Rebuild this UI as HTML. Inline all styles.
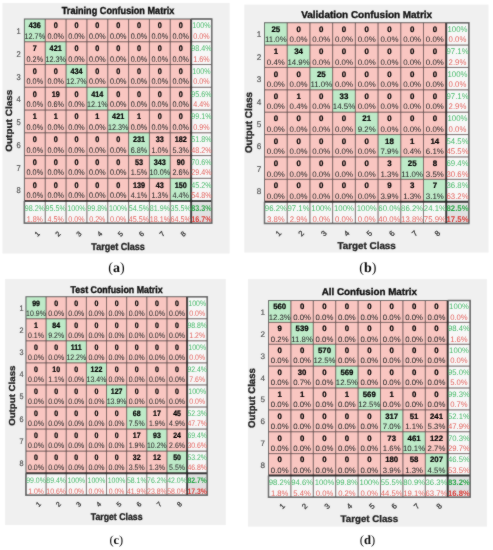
<!DOCTYPE html>
<html><head><meta charset="utf-8"><style>
html,body{margin:0;padding:0;background:#fff;}
svg{display:block;}
text{font-family:"Liberation Sans",Arial,sans-serif;text-anchor:middle;}
.cnt{font-weight:bold;fill:#000;stroke:#000;stroke-width:0.22px;}
.pct{fill:#2c2c2c;stroke:#2c2c2c;stroke-width:0.05px;}
.sg{fill:rgb(70,185,105);}
.sr{fill:rgb(228,100,95);}
.sgb{fill:rgb(40,165,70);font-weight:bold;}
.srb{fill:rgb(218,55,50);font-weight:bold;}
.ttl{font-weight:bold;fill:#111;stroke:#111;stroke-width:0.35px;}
.lab{font-weight:bold;fill:#222;stroke:#222;stroke-width:0.3px;}
.tick{fill:#585858;stroke:#585858;stroke-width:0.2px;}
.xtick{fill:#3c3c3c;stroke:#3c3c3c;stroke-width:0.3px;}
.cap{font-family:"Liberation Serif","Times New Roman",serif;fill:#111;}
</style></head><body>
<svg width="493" height="550" viewBox="0 0 493 550" text-rendering="geometricPrecision">
<defs><filter id="bl" x="0" y="0" width="493" height="550" filterUnits="userSpaceOnUse"><feConvolveMatrix order="3" kernelMatrix="1 2 1 2 20 2 1 2 1" divisor="32" edgeMode="duplicate"/></filter><filter id="bt" x="0" y="0" width="493" height="550" filterUnits="userSpaceOnUse"><feConvolveMatrix order="3" kernelMatrix="1 2 1 2 28 2 1 2 1" divisor="40" edgeMode="duplicate"/></filter></defs>
<g filter="url(#bl)">
<rect width="493" height="550" fill="#fff"/>
<rect x="2.5" y="3" width="227.1" height="250.5" fill="#f0f0f0"/>
<rect x="24.4" y="19" width="20.84" height="22.76" fill="rgb(190,234,200)"/>
<rect x="45.24" y="19" width="20.84" height="22.76" fill="rgb(249,198,193)"/>
<rect x="66.07" y="19" width="20.84" height="22.76" fill="rgb(249,198,193)"/>
<rect x="86.91" y="19" width="20.84" height="22.76" fill="rgb(249,198,193)"/>
<rect x="107.75" y="19" width="20.84" height="22.76" fill="rgb(249,198,193)"/>
<rect x="128.59" y="19" width="20.84" height="22.76" fill="rgb(249,198,193)"/>
<rect x="149.42" y="19" width="20.84" height="22.76" fill="rgb(249,198,193)"/>
<rect x="170.26" y="19" width="20.84" height="22.76" fill="rgb(249,198,193)"/>
<rect x="191.1" y="19" width="20.6" height="22.76" fill="rgb(247,247,247)"/>
<rect x="24.4" y="41.76" width="20.84" height="22.76" fill="rgb(249,198,193)"/>
<rect x="45.24" y="41.76" width="20.84" height="22.76" fill="rgb(190,234,200)"/>
<rect x="66.07" y="41.76" width="20.84" height="22.76" fill="rgb(249,198,193)"/>
<rect x="86.91" y="41.76" width="20.84" height="22.76" fill="rgb(249,198,193)"/>
<rect x="107.75" y="41.76" width="20.84" height="22.76" fill="rgb(249,198,193)"/>
<rect x="128.59" y="41.76" width="20.84" height="22.76" fill="rgb(249,198,193)"/>
<rect x="149.42" y="41.76" width="20.84" height="22.76" fill="rgb(249,198,193)"/>
<rect x="170.26" y="41.76" width="20.84" height="22.76" fill="rgb(249,198,193)"/>
<rect x="191.1" y="41.76" width="20.6" height="22.76" fill="rgb(247,247,247)"/>
<rect x="24.4" y="64.53" width="20.84" height="22.76" fill="rgb(249,198,193)"/>
<rect x="45.24" y="64.53" width="20.84" height="22.76" fill="rgb(249,198,193)"/>
<rect x="66.07" y="64.53" width="20.84" height="22.76" fill="rgb(190,234,200)"/>
<rect x="86.91" y="64.53" width="20.84" height="22.76" fill="rgb(249,198,193)"/>
<rect x="107.75" y="64.53" width="20.84" height="22.76" fill="rgb(249,198,193)"/>
<rect x="128.59" y="64.53" width="20.84" height="22.76" fill="rgb(249,198,193)"/>
<rect x="149.42" y="64.53" width="20.84" height="22.76" fill="rgb(249,198,193)"/>
<rect x="170.26" y="64.53" width="20.84" height="22.76" fill="rgb(249,198,193)"/>
<rect x="191.1" y="64.53" width="20.6" height="22.76" fill="rgb(247,247,247)"/>
<rect x="24.4" y="87.29" width="20.84" height="22.76" fill="rgb(249,198,193)"/>
<rect x="45.24" y="87.29" width="20.84" height="22.76" fill="rgb(249,198,193)"/>
<rect x="66.07" y="87.29" width="20.84" height="22.76" fill="rgb(249,198,193)"/>
<rect x="86.91" y="87.29" width="20.84" height="22.76" fill="rgb(190,234,200)"/>
<rect x="107.75" y="87.29" width="20.84" height="22.76" fill="rgb(249,198,193)"/>
<rect x="128.59" y="87.29" width="20.84" height="22.76" fill="rgb(249,198,193)"/>
<rect x="149.42" y="87.29" width="20.84" height="22.76" fill="rgb(249,198,193)"/>
<rect x="170.26" y="87.29" width="20.84" height="22.76" fill="rgb(249,198,193)"/>
<rect x="191.1" y="87.29" width="20.6" height="22.76" fill="rgb(247,247,247)"/>
<rect x="24.4" y="110.05" width="20.84" height="22.76" fill="rgb(249,198,193)"/>
<rect x="45.24" y="110.05" width="20.84" height="22.76" fill="rgb(249,198,193)"/>
<rect x="66.07" y="110.05" width="20.84" height="22.76" fill="rgb(249,198,193)"/>
<rect x="86.91" y="110.05" width="20.84" height="22.76" fill="rgb(249,198,193)"/>
<rect x="107.75" y="110.05" width="20.84" height="22.76" fill="rgb(190,234,200)"/>
<rect x="128.59" y="110.05" width="20.84" height="22.76" fill="rgb(249,198,193)"/>
<rect x="149.42" y="110.05" width="20.84" height="22.76" fill="rgb(249,198,193)"/>
<rect x="170.26" y="110.05" width="20.84" height="22.76" fill="rgb(249,198,193)"/>
<rect x="191.1" y="110.05" width="20.6" height="22.76" fill="rgb(247,247,247)"/>
<rect x="24.4" y="132.81" width="20.84" height="22.76" fill="rgb(249,198,193)"/>
<rect x="45.24" y="132.81" width="20.84" height="22.76" fill="rgb(249,198,193)"/>
<rect x="66.07" y="132.81" width="20.84" height="22.76" fill="rgb(249,198,193)"/>
<rect x="86.91" y="132.81" width="20.84" height="22.76" fill="rgb(249,198,193)"/>
<rect x="107.75" y="132.81" width="20.84" height="22.76" fill="rgb(249,198,193)"/>
<rect x="128.59" y="132.81" width="20.84" height="22.76" fill="rgb(190,234,200)"/>
<rect x="149.42" y="132.81" width="20.84" height="22.76" fill="rgb(249,198,193)"/>
<rect x="170.26" y="132.81" width="20.84" height="22.76" fill="rgb(249,198,193)"/>
<rect x="191.1" y="132.81" width="20.6" height="22.76" fill="rgb(247,247,247)"/>
<rect x="24.4" y="155.57" width="20.84" height="22.76" fill="rgb(249,198,193)"/>
<rect x="45.24" y="155.57" width="20.84" height="22.76" fill="rgb(249,198,193)"/>
<rect x="66.07" y="155.57" width="20.84" height="22.76" fill="rgb(249,198,193)"/>
<rect x="86.91" y="155.57" width="20.84" height="22.76" fill="rgb(249,198,193)"/>
<rect x="107.75" y="155.57" width="20.84" height="22.76" fill="rgb(249,198,193)"/>
<rect x="128.59" y="155.57" width="20.84" height="22.76" fill="rgb(249,198,193)"/>
<rect x="149.42" y="155.57" width="20.84" height="22.76" fill="rgb(190,234,200)"/>
<rect x="170.26" y="155.57" width="20.84" height="22.76" fill="rgb(249,198,193)"/>
<rect x="191.1" y="155.57" width="20.6" height="22.76" fill="rgb(247,247,247)"/>
<rect x="24.4" y="178.34" width="20.84" height="22.76" fill="rgb(249,198,193)"/>
<rect x="45.24" y="178.34" width="20.84" height="22.76" fill="rgb(249,198,193)"/>
<rect x="66.07" y="178.34" width="20.84" height="22.76" fill="rgb(249,198,193)"/>
<rect x="86.91" y="178.34" width="20.84" height="22.76" fill="rgb(249,198,193)"/>
<rect x="107.75" y="178.34" width="20.84" height="22.76" fill="rgb(249,198,193)"/>
<rect x="128.59" y="178.34" width="20.84" height="22.76" fill="rgb(249,198,193)"/>
<rect x="149.42" y="178.34" width="20.84" height="22.76" fill="rgb(249,198,193)"/>
<rect x="170.26" y="178.34" width="20.84" height="22.76" fill="rgb(190,234,200)"/>
<rect x="191.1" y="178.34" width="20.6" height="22.76" fill="rgb(247,247,247)"/>
<rect x="24.4" y="201.1" width="20.84" height="22.1" fill="rgb(247,247,247)"/>
<rect x="45.24" y="201.1" width="20.84" height="22.1" fill="rgb(247,247,247)"/>
<rect x="66.07" y="201.1" width="20.84" height="22.1" fill="rgb(247,247,247)"/>
<rect x="86.91" y="201.1" width="20.84" height="22.1" fill="rgb(247,247,247)"/>
<rect x="107.75" y="201.1" width="20.84" height="22.1" fill="rgb(247,247,247)"/>
<rect x="128.59" y="201.1" width="20.84" height="22.1" fill="rgb(247,247,247)"/>
<rect x="149.42" y="201.1" width="20.84" height="22.1" fill="rgb(247,247,247)"/>
<rect x="170.26" y="201.1" width="20.84" height="22.1" fill="rgb(247,247,247)"/>
<rect x="191.1" y="201.1" width="20.6" height="22.1" fill="rgb(225,225,226)"/>
<line x1="45.24" y1="19" x2="45.24" y2="223.2" stroke="#5a4848" stroke-width="0.9"/>
<line x1="24.4" y1="41.76" x2="211.7" y2="41.76" stroke="#5a4848" stroke-width="0.9"/>
<line x1="66.07" y1="19" x2="66.07" y2="223.2" stroke="#5a4848" stroke-width="0.9"/>
<line x1="24.4" y1="64.53" x2="211.7" y2="64.53" stroke="#5a4848" stroke-width="0.9"/>
<line x1="86.91" y1="19" x2="86.91" y2="223.2" stroke="#5a4848" stroke-width="0.9"/>
<line x1="24.4" y1="87.29" x2="211.7" y2="87.29" stroke="#5a4848" stroke-width="0.9"/>
<line x1="107.75" y1="19" x2="107.75" y2="223.2" stroke="#5a4848" stroke-width="0.9"/>
<line x1="24.4" y1="110.05" x2="211.7" y2="110.05" stroke="#5a4848" stroke-width="0.9"/>
<line x1="128.59" y1="19" x2="128.59" y2="223.2" stroke="#5a4848" stroke-width="0.9"/>
<line x1="24.4" y1="132.81" x2="211.7" y2="132.81" stroke="#5a4848" stroke-width="0.9"/>
<line x1="149.42" y1="19" x2="149.42" y2="223.2" stroke="#5a4848" stroke-width="0.9"/>
<line x1="24.4" y1="155.57" x2="211.7" y2="155.57" stroke="#5a4848" stroke-width="0.9"/>
<line x1="170.26" y1="19" x2="170.26" y2="223.2" stroke="#5a4848" stroke-width="0.9"/>
<line x1="24.4" y1="178.34" x2="211.7" y2="178.34" stroke="#5a4848" stroke-width="0.9"/>
<line x1="191.1" y1="19" x2="191.1" y2="223.2" stroke="#1a1a1a" stroke-width="2"/>
<line x1="24.4" y1="201.1" x2="211.7" y2="201.1" stroke="#1a1a1a" stroke-width="2"/>
<rect x="24.4" y="19" width="187.3" height="204.2" fill="none" stroke="#555" stroke-width="1"/>
<path d="M191.1,19 H211.7 V223.2 H24.4 V201.1" fill="none" stroke="#606060" stroke-width="1.5"/>
<rect x="244.3" y="4.6" width="244.2" height="247.9" fill="#f0f0f0"/>
<rect x="264.5" y="22.7" width="22.71" height="22.38" fill="rgb(190,234,200)"/>
<rect x="287.21" y="22.7" width="22.71" height="22.38" fill="rgb(249,198,193)"/>
<rect x="309.93" y="22.7" width="22.71" height="22.38" fill="rgb(249,198,193)"/>
<rect x="332.64" y="22.7" width="22.71" height="22.38" fill="rgb(249,198,193)"/>
<rect x="355.35" y="22.7" width="22.71" height="22.38" fill="rgb(249,198,193)"/>
<rect x="378.06" y="22.7" width="22.71" height="22.38" fill="rgb(249,198,193)"/>
<rect x="400.77" y="22.7" width="22.71" height="22.38" fill="rgb(249,198,193)"/>
<rect x="423.49" y="22.7" width="22.71" height="22.38" fill="rgb(249,198,193)"/>
<rect x="446.2" y="22.7" width="22.6" height="22.38" fill="rgb(247,247,247)"/>
<rect x="264.5" y="45.08" width="22.71" height="22.38" fill="rgb(249,198,193)"/>
<rect x="287.21" y="45.08" width="22.71" height="22.38" fill="rgb(190,234,200)"/>
<rect x="309.93" y="45.08" width="22.71" height="22.38" fill="rgb(249,198,193)"/>
<rect x="332.64" y="45.08" width="22.71" height="22.38" fill="rgb(249,198,193)"/>
<rect x="355.35" y="45.08" width="22.71" height="22.38" fill="rgb(249,198,193)"/>
<rect x="378.06" y="45.08" width="22.71" height="22.38" fill="rgb(249,198,193)"/>
<rect x="400.77" y="45.08" width="22.71" height="22.38" fill="rgb(249,198,193)"/>
<rect x="423.49" y="45.08" width="22.71" height="22.38" fill="rgb(249,198,193)"/>
<rect x="446.2" y="45.08" width="22.6" height="22.38" fill="rgb(247,247,247)"/>
<rect x="264.5" y="67.45" width="22.71" height="22.38" fill="rgb(249,198,193)"/>
<rect x="287.21" y="67.45" width="22.71" height="22.38" fill="rgb(249,198,193)"/>
<rect x="309.93" y="67.45" width="22.71" height="22.38" fill="rgb(190,234,200)"/>
<rect x="332.64" y="67.45" width="22.71" height="22.38" fill="rgb(249,198,193)"/>
<rect x="355.35" y="67.45" width="22.71" height="22.38" fill="rgb(249,198,193)"/>
<rect x="378.06" y="67.45" width="22.71" height="22.38" fill="rgb(249,198,193)"/>
<rect x="400.77" y="67.45" width="22.71" height="22.38" fill="rgb(249,198,193)"/>
<rect x="423.49" y="67.45" width="22.71" height="22.38" fill="rgb(249,198,193)"/>
<rect x="446.2" y="67.45" width="22.6" height="22.38" fill="rgb(247,247,247)"/>
<rect x="264.5" y="89.83" width="22.71" height="22.38" fill="rgb(249,198,193)"/>
<rect x="287.21" y="89.83" width="22.71" height="22.38" fill="rgb(249,198,193)"/>
<rect x="309.93" y="89.83" width="22.71" height="22.38" fill="rgb(249,198,193)"/>
<rect x="332.64" y="89.83" width="22.71" height="22.38" fill="rgb(190,234,200)"/>
<rect x="355.35" y="89.83" width="22.71" height="22.38" fill="rgb(249,198,193)"/>
<rect x="378.06" y="89.83" width="22.71" height="22.38" fill="rgb(249,198,193)"/>
<rect x="400.77" y="89.83" width="22.71" height="22.38" fill="rgb(249,198,193)"/>
<rect x="423.49" y="89.83" width="22.71" height="22.38" fill="rgb(249,198,193)"/>
<rect x="446.2" y="89.83" width="22.6" height="22.38" fill="rgb(247,247,247)"/>
<rect x="264.5" y="112.2" width="22.71" height="22.37" fill="rgb(249,198,193)"/>
<rect x="287.21" y="112.2" width="22.71" height="22.37" fill="rgb(249,198,193)"/>
<rect x="309.93" y="112.2" width="22.71" height="22.37" fill="rgb(249,198,193)"/>
<rect x="332.64" y="112.2" width="22.71" height="22.37" fill="rgb(249,198,193)"/>
<rect x="355.35" y="112.2" width="22.71" height="22.37" fill="rgb(190,234,200)"/>
<rect x="378.06" y="112.2" width="22.71" height="22.37" fill="rgb(249,198,193)"/>
<rect x="400.77" y="112.2" width="22.71" height="22.37" fill="rgb(249,198,193)"/>
<rect x="423.49" y="112.2" width="22.71" height="22.37" fill="rgb(249,198,193)"/>
<rect x="446.2" y="112.2" width="22.6" height="22.37" fill="rgb(247,247,247)"/>
<rect x="264.5" y="134.57" width="22.71" height="22.38" fill="rgb(249,198,193)"/>
<rect x="287.21" y="134.57" width="22.71" height="22.38" fill="rgb(249,198,193)"/>
<rect x="309.93" y="134.57" width="22.71" height="22.38" fill="rgb(249,198,193)"/>
<rect x="332.64" y="134.57" width="22.71" height="22.38" fill="rgb(249,198,193)"/>
<rect x="355.35" y="134.57" width="22.71" height="22.38" fill="rgb(249,198,193)"/>
<rect x="378.06" y="134.57" width="22.71" height="22.38" fill="rgb(190,234,200)"/>
<rect x="400.77" y="134.57" width="22.71" height="22.38" fill="rgb(249,198,193)"/>
<rect x="423.49" y="134.57" width="22.71" height="22.38" fill="rgb(249,198,193)"/>
<rect x="446.2" y="134.57" width="22.6" height="22.38" fill="rgb(247,247,247)"/>
<rect x="264.5" y="156.95" width="22.71" height="22.38" fill="rgb(249,198,193)"/>
<rect x="287.21" y="156.95" width="22.71" height="22.38" fill="rgb(249,198,193)"/>
<rect x="309.93" y="156.95" width="22.71" height="22.38" fill="rgb(249,198,193)"/>
<rect x="332.64" y="156.95" width="22.71" height="22.38" fill="rgb(249,198,193)"/>
<rect x="355.35" y="156.95" width="22.71" height="22.38" fill="rgb(249,198,193)"/>
<rect x="378.06" y="156.95" width="22.71" height="22.38" fill="rgb(249,198,193)"/>
<rect x="400.77" y="156.95" width="22.71" height="22.38" fill="rgb(190,234,200)"/>
<rect x="423.49" y="156.95" width="22.71" height="22.38" fill="rgb(249,198,193)"/>
<rect x="446.2" y="156.95" width="22.6" height="22.38" fill="rgb(247,247,247)"/>
<rect x="264.5" y="179.32" width="22.71" height="22.38" fill="rgb(249,198,193)"/>
<rect x="287.21" y="179.32" width="22.71" height="22.38" fill="rgb(249,198,193)"/>
<rect x="309.93" y="179.32" width="22.71" height="22.38" fill="rgb(249,198,193)"/>
<rect x="332.64" y="179.32" width="22.71" height="22.38" fill="rgb(249,198,193)"/>
<rect x="355.35" y="179.32" width="22.71" height="22.38" fill="rgb(249,198,193)"/>
<rect x="378.06" y="179.32" width="22.71" height="22.38" fill="rgb(249,198,193)"/>
<rect x="400.77" y="179.32" width="22.71" height="22.38" fill="rgb(249,198,193)"/>
<rect x="423.49" y="179.32" width="22.71" height="22.38" fill="rgb(190,234,200)"/>
<rect x="446.2" y="179.32" width="22.6" height="22.38" fill="rgb(247,247,247)"/>
<rect x="264.5" y="201.7" width="22.71" height="21.7" fill="rgb(247,247,247)"/>
<rect x="287.21" y="201.7" width="22.71" height="21.7" fill="rgb(247,247,247)"/>
<rect x="309.93" y="201.7" width="22.71" height="21.7" fill="rgb(247,247,247)"/>
<rect x="332.64" y="201.7" width="22.71" height="21.7" fill="rgb(247,247,247)"/>
<rect x="355.35" y="201.7" width="22.71" height="21.7" fill="rgb(247,247,247)"/>
<rect x="378.06" y="201.7" width="22.71" height="21.7" fill="rgb(247,247,247)"/>
<rect x="400.77" y="201.7" width="22.71" height="21.7" fill="rgb(247,247,247)"/>
<rect x="423.49" y="201.7" width="22.71" height="21.7" fill="rgb(247,247,247)"/>
<rect x="446.2" y="201.7" width="22.6" height="21.7" fill="rgb(225,225,226)"/>
<line x1="287.21" y1="22.7" x2="287.21" y2="223.4" stroke="#5a4848" stroke-width="0.9"/>
<line x1="264.5" y1="45.08" x2="468.8" y2="45.08" stroke="#5a4848" stroke-width="0.9"/>
<line x1="309.93" y1="22.7" x2="309.93" y2="223.4" stroke="#5a4848" stroke-width="0.9"/>
<line x1="264.5" y1="67.45" x2="468.8" y2="67.45" stroke="#5a4848" stroke-width="0.9"/>
<line x1="332.64" y1="22.7" x2="332.64" y2="223.4" stroke="#5a4848" stroke-width="0.9"/>
<line x1="264.5" y1="89.83" x2="468.8" y2="89.83" stroke="#5a4848" stroke-width="0.9"/>
<line x1="355.35" y1="22.7" x2="355.35" y2="223.4" stroke="#5a4848" stroke-width="0.9"/>
<line x1="264.5" y1="112.2" x2="468.8" y2="112.2" stroke="#5a4848" stroke-width="0.9"/>
<line x1="378.06" y1="22.7" x2="378.06" y2="223.4" stroke="#5a4848" stroke-width="0.9"/>
<line x1="264.5" y1="134.57" x2="468.8" y2="134.57" stroke="#5a4848" stroke-width="0.9"/>
<line x1="400.77" y1="22.7" x2="400.77" y2="223.4" stroke="#5a4848" stroke-width="0.9"/>
<line x1="264.5" y1="156.95" x2="468.8" y2="156.95" stroke="#5a4848" stroke-width="0.9"/>
<line x1="423.49" y1="22.7" x2="423.49" y2="223.4" stroke="#5a4848" stroke-width="0.9"/>
<line x1="264.5" y1="179.32" x2="468.8" y2="179.32" stroke="#5a4848" stroke-width="0.9"/>
<line x1="446.2" y1="22.7" x2="446.2" y2="223.4" stroke="#1a1a1a" stroke-width="2"/>
<line x1="264.5" y1="201.7" x2="468.8" y2="201.7" stroke="#1a1a1a" stroke-width="2"/>
<rect x="264.5" y="22.7" width="204.3" height="200.7" fill="none" stroke="#555" stroke-width="1"/>
<path d="M446.2,22.7 H468.8 V223.4 H264.5 V201.7" fill="none" stroke="#606060" stroke-width="1.5"/>
<rect x="5.1" y="279" width="220.7" height="246" fill="#f0f0f0"/>
<rect x="25.95" y="296.7" width="20.14" height="22.06" fill="rgb(190,234,200)"/>
<rect x="46.09" y="296.7" width="20.14" height="22.06" fill="rgb(249,198,193)"/>
<rect x="66.24" y="296.7" width="20.14" height="22.06" fill="rgb(249,198,193)"/>
<rect x="86.38" y="296.7" width="20.14" height="22.06" fill="rgb(249,198,193)"/>
<rect x="106.53" y="296.7" width="20.14" height="22.06" fill="rgb(249,198,193)"/>
<rect x="126.67" y="296.7" width="20.14" height="22.06" fill="rgb(249,198,193)"/>
<rect x="146.81" y="296.7" width="20.14" height="22.06" fill="rgb(249,198,193)"/>
<rect x="166.96" y="296.7" width="20.14" height="22.06" fill="rgb(249,198,193)"/>
<rect x="187.1" y="296.7" width="20.2" height="22.06" fill="rgb(247,247,247)"/>
<rect x="25.95" y="318.76" width="20.14" height="22.06" fill="rgb(249,198,193)"/>
<rect x="46.09" y="318.76" width="20.14" height="22.06" fill="rgb(190,234,200)"/>
<rect x="66.24" y="318.76" width="20.14" height="22.06" fill="rgb(249,198,193)"/>
<rect x="86.38" y="318.76" width="20.14" height="22.06" fill="rgb(249,198,193)"/>
<rect x="106.53" y="318.76" width="20.14" height="22.06" fill="rgb(249,198,193)"/>
<rect x="126.67" y="318.76" width="20.14" height="22.06" fill="rgb(249,198,193)"/>
<rect x="146.81" y="318.76" width="20.14" height="22.06" fill="rgb(249,198,193)"/>
<rect x="166.96" y="318.76" width="20.14" height="22.06" fill="rgb(249,198,193)"/>
<rect x="187.1" y="318.76" width="20.2" height="22.06" fill="rgb(247,247,247)"/>
<rect x="25.95" y="340.82" width="20.14" height="22.06" fill="rgb(249,198,193)"/>
<rect x="46.09" y="340.82" width="20.14" height="22.06" fill="rgb(249,198,193)"/>
<rect x="66.24" y="340.82" width="20.14" height="22.06" fill="rgb(190,234,200)"/>
<rect x="86.38" y="340.82" width="20.14" height="22.06" fill="rgb(249,198,193)"/>
<rect x="106.53" y="340.82" width="20.14" height="22.06" fill="rgb(249,198,193)"/>
<rect x="126.67" y="340.82" width="20.14" height="22.06" fill="rgb(249,198,193)"/>
<rect x="146.81" y="340.82" width="20.14" height="22.06" fill="rgb(249,198,193)"/>
<rect x="166.96" y="340.82" width="20.14" height="22.06" fill="rgb(249,198,193)"/>
<rect x="187.1" y="340.82" width="20.2" height="22.06" fill="rgb(247,247,247)"/>
<rect x="25.95" y="362.89" width="20.14" height="22.06" fill="rgb(249,198,193)"/>
<rect x="46.09" y="362.89" width="20.14" height="22.06" fill="rgb(249,198,193)"/>
<rect x="66.24" y="362.89" width="20.14" height="22.06" fill="rgb(249,198,193)"/>
<rect x="86.38" y="362.89" width="20.14" height="22.06" fill="rgb(190,234,200)"/>
<rect x="106.53" y="362.89" width="20.14" height="22.06" fill="rgb(249,198,193)"/>
<rect x="126.67" y="362.89" width="20.14" height="22.06" fill="rgb(249,198,193)"/>
<rect x="146.81" y="362.89" width="20.14" height="22.06" fill="rgb(249,198,193)"/>
<rect x="166.96" y="362.89" width="20.14" height="22.06" fill="rgb(249,198,193)"/>
<rect x="187.1" y="362.89" width="20.2" height="22.06" fill="rgb(247,247,247)"/>
<rect x="25.95" y="384.95" width="20.14" height="22.06" fill="rgb(249,198,193)"/>
<rect x="46.09" y="384.95" width="20.14" height="22.06" fill="rgb(249,198,193)"/>
<rect x="66.24" y="384.95" width="20.14" height="22.06" fill="rgb(249,198,193)"/>
<rect x="86.38" y="384.95" width="20.14" height="22.06" fill="rgb(249,198,193)"/>
<rect x="106.53" y="384.95" width="20.14" height="22.06" fill="rgb(190,234,200)"/>
<rect x="126.67" y="384.95" width="20.14" height="22.06" fill="rgb(249,198,193)"/>
<rect x="146.81" y="384.95" width="20.14" height="22.06" fill="rgb(249,198,193)"/>
<rect x="166.96" y="384.95" width="20.14" height="22.06" fill="rgb(249,198,193)"/>
<rect x="187.1" y="384.95" width="20.2" height="22.06" fill="rgb(247,247,247)"/>
<rect x="25.95" y="407.01" width="20.14" height="22.06" fill="rgb(249,198,193)"/>
<rect x="46.09" y="407.01" width="20.14" height="22.06" fill="rgb(249,198,193)"/>
<rect x="66.24" y="407.01" width="20.14" height="22.06" fill="rgb(249,198,193)"/>
<rect x="86.38" y="407.01" width="20.14" height="22.06" fill="rgb(249,198,193)"/>
<rect x="106.53" y="407.01" width="20.14" height="22.06" fill="rgb(249,198,193)"/>
<rect x="126.67" y="407.01" width="20.14" height="22.06" fill="rgb(190,234,200)"/>
<rect x="146.81" y="407.01" width="20.14" height="22.06" fill="rgb(249,198,193)"/>
<rect x="166.96" y="407.01" width="20.14" height="22.06" fill="rgb(249,198,193)"/>
<rect x="187.1" y="407.01" width="20.2" height="22.06" fill="rgb(247,247,247)"/>
<rect x="25.95" y="429.07" width="20.14" height="22.06" fill="rgb(249,198,193)"/>
<rect x="46.09" y="429.07" width="20.14" height="22.06" fill="rgb(249,198,193)"/>
<rect x="66.24" y="429.07" width="20.14" height="22.06" fill="rgb(249,198,193)"/>
<rect x="86.38" y="429.07" width="20.14" height="22.06" fill="rgb(249,198,193)"/>
<rect x="106.53" y="429.07" width="20.14" height="22.06" fill="rgb(249,198,193)"/>
<rect x="126.67" y="429.07" width="20.14" height="22.06" fill="rgb(249,198,193)"/>
<rect x="146.81" y="429.07" width="20.14" height="22.06" fill="rgb(190,234,200)"/>
<rect x="166.96" y="429.07" width="20.14" height="22.06" fill="rgb(249,198,193)"/>
<rect x="187.1" y="429.07" width="20.2" height="22.06" fill="rgb(247,247,247)"/>
<rect x="25.95" y="451.14" width="20.14" height="22.06" fill="rgb(249,198,193)"/>
<rect x="46.09" y="451.14" width="20.14" height="22.06" fill="rgb(249,198,193)"/>
<rect x="66.24" y="451.14" width="20.14" height="22.06" fill="rgb(249,198,193)"/>
<rect x="86.38" y="451.14" width="20.14" height="22.06" fill="rgb(249,198,193)"/>
<rect x="106.53" y="451.14" width="20.14" height="22.06" fill="rgb(249,198,193)"/>
<rect x="126.67" y="451.14" width="20.14" height="22.06" fill="rgb(249,198,193)"/>
<rect x="146.81" y="451.14" width="20.14" height="22.06" fill="rgb(249,198,193)"/>
<rect x="166.96" y="451.14" width="20.14" height="22.06" fill="rgb(190,234,200)"/>
<rect x="187.1" y="451.14" width="20.2" height="22.06" fill="rgb(247,247,247)"/>
<rect x="25.95" y="473.2" width="20.14" height="22" fill="rgb(247,247,247)"/>
<rect x="46.09" y="473.2" width="20.14" height="22" fill="rgb(247,247,247)"/>
<rect x="66.24" y="473.2" width="20.14" height="22" fill="rgb(247,247,247)"/>
<rect x="86.38" y="473.2" width="20.14" height="22" fill="rgb(247,247,247)"/>
<rect x="106.53" y="473.2" width="20.14" height="22" fill="rgb(247,247,247)"/>
<rect x="126.67" y="473.2" width="20.14" height="22" fill="rgb(247,247,247)"/>
<rect x="146.81" y="473.2" width="20.14" height="22" fill="rgb(247,247,247)"/>
<rect x="166.96" y="473.2" width="20.14" height="22" fill="rgb(247,247,247)"/>
<rect x="187.1" y="473.2" width="20.2" height="22" fill="rgb(225,225,226)"/>
<line x1="46.09" y1="296.7" x2="46.09" y2="495.2" stroke="#5a4848" stroke-width="0.9"/>
<line x1="25.95" y1="318.76" x2="207.3" y2="318.76" stroke="#5a4848" stroke-width="0.9"/>
<line x1="66.24" y1="296.7" x2="66.24" y2="495.2" stroke="#5a4848" stroke-width="0.9"/>
<line x1="25.95" y1="340.82" x2="207.3" y2="340.82" stroke="#5a4848" stroke-width="0.9"/>
<line x1="86.38" y1="296.7" x2="86.38" y2="495.2" stroke="#5a4848" stroke-width="0.9"/>
<line x1="25.95" y1="362.89" x2="207.3" y2="362.89" stroke="#5a4848" stroke-width="0.9"/>
<line x1="106.53" y1="296.7" x2="106.53" y2="495.2" stroke="#5a4848" stroke-width="0.9"/>
<line x1="25.95" y1="384.95" x2="207.3" y2="384.95" stroke="#5a4848" stroke-width="0.9"/>
<line x1="126.67" y1="296.7" x2="126.67" y2="495.2" stroke="#5a4848" stroke-width="0.9"/>
<line x1="25.95" y1="407.01" x2="207.3" y2="407.01" stroke="#5a4848" stroke-width="0.9"/>
<line x1="146.81" y1="296.7" x2="146.81" y2="495.2" stroke="#5a4848" stroke-width="0.9"/>
<line x1="25.95" y1="429.07" x2="207.3" y2="429.07" stroke="#5a4848" stroke-width="0.9"/>
<line x1="166.96" y1="296.7" x2="166.96" y2="495.2" stroke="#5a4848" stroke-width="0.9"/>
<line x1="25.95" y1="451.14" x2="207.3" y2="451.14" stroke="#5a4848" stroke-width="0.9"/>
<line x1="187.1" y1="296.7" x2="187.1" y2="495.2" stroke="#1a1a1a" stroke-width="2"/>
<line x1="25.95" y1="473.2" x2="207.3" y2="473.2" stroke="#1a1a1a" stroke-width="2"/>
<rect x="25.95" y="296.7" width="181.35" height="198.5" fill="none" stroke="#555" stroke-width="1"/>
<path d="M187.1,296.7 H207.3 V495.2 H25.95 V473.2" fill="none" stroke="#606060" stroke-width="1.5"/>
<rect x="248" y="279.1" width="238.9" height="247.5" fill="#f0f0f0"/>
<rect x="268.5" y="300.5" width="22.4" height="21.88" fill="rgb(190,234,200)"/>
<rect x="290.9" y="300.5" width="22.4" height="21.88" fill="rgb(249,198,193)"/>
<rect x="313.3" y="300.5" width="22.4" height="21.88" fill="rgb(249,198,193)"/>
<rect x="335.7" y="300.5" width="22.4" height="21.88" fill="rgb(249,198,193)"/>
<rect x="358.1" y="300.5" width="22.4" height="21.88" fill="rgb(249,198,193)"/>
<rect x="380.5" y="300.5" width="22.4" height="21.88" fill="rgb(249,198,193)"/>
<rect x="402.9" y="300.5" width="22.4" height="21.88" fill="rgb(249,198,193)"/>
<rect x="425.3" y="300.5" width="22.4" height="21.88" fill="rgb(249,198,193)"/>
<rect x="447.7" y="300.5" width="22.5" height="21.88" fill="rgb(247,247,247)"/>
<rect x="268.5" y="322.38" width="22.4" height="21.88" fill="rgb(249,198,193)"/>
<rect x="290.9" y="322.38" width="22.4" height="21.88" fill="rgb(190,234,200)"/>
<rect x="313.3" y="322.38" width="22.4" height="21.88" fill="rgb(249,198,193)"/>
<rect x="335.7" y="322.38" width="22.4" height="21.88" fill="rgb(249,198,193)"/>
<rect x="358.1" y="322.38" width="22.4" height="21.88" fill="rgb(249,198,193)"/>
<rect x="380.5" y="322.38" width="22.4" height="21.88" fill="rgb(249,198,193)"/>
<rect x="402.9" y="322.38" width="22.4" height="21.88" fill="rgb(249,198,193)"/>
<rect x="425.3" y="322.38" width="22.4" height="21.88" fill="rgb(249,198,193)"/>
<rect x="447.7" y="322.38" width="22.5" height="21.88" fill="rgb(247,247,247)"/>
<rect x="268.5" y="344.25" width="22.4" height="21.88" fill="rgb(249,198,193)"/>
<rect x="290.9" y="344.25" width="22.4" height="21.88" fill="rgb(249,198,193)"/>
<rect x="313.3" y="344.25" width="22.4" height="21.88" fill="rgb(190,234,200)"/>
<rect x="335.7" y="344.25" width="22.4" height="21.88" fill="rgb(249,198,193)"/>
<rect x="358.1" y="344.25" width="22.4" height="21.88" fill="rgb(249,198,193)"/>
<rect x="380.5" y="344.25" width="22.4" height="21.88" fill="rgb(249,198,193)"/>
<rect x="402.9" y="344.25" width="22.4" height="21.88" fill="rgb(249,198,193)"/>
<rect x="425.3" y="344.25" width="22.4" height="21.88" fill="rgb(249,198,193)"/>
<rect x="447.7" y="344.25" width="22.5" height="21.88" fill="rgb(247,247,247)"/>
<rect x="268.5" y="366.12" width="22.4" height="21.88" fill="rgb(249,198,193)"/>
<rect x="290.9" y="366.12" width="22.4" height="21.88" fill="rgb(249,198,193)"/>
<rect x="313.3" y="366.12" width="22.4" height="21.88" fill="rgb(249,198,193)"/>
<rect x="335.7" y="366.12" width="22.4" height="21.88" fill="rgb(190,234,200)"/>
<rect x="358.1" y="366.12" width="22.4" height="21.88" fill="rgb(249,198,193)"/>
<rect x="380.5" y="366.12" width="22.4" height="21.88" fill="rgb(249,198,193)"/>
<rect x="402.9" y="366.12" width="22.4" height="21.88" fill="rgb(249,198,193)"/>
<rect x="425.3" y="366.12" width="22.4" height="21.88" fill="rgb(249,198,193)"/>
<rect x="447.7" y="366.12" width="22.5" height="21.88" fill="rgb(247,247,247)"/>
<rect x="268.5" y="388" width="22.4" height="21.88" fill="rgb(249,198,193)"/>
<rect x="290.9" y="388" width="22.4" height="21.88" fill="rgb(249,198,193)"/>
<rect x="313.3" y="388" width="22.4" height="21.88" fill="rgb(249,198,193)"/>
<rect x="335.7" y="388" width="22.4" height="21.88" fill="rgb(249,198,193)"/>
<rect x="358.1" y="388" width="22.4" height="21.88" fill="rgb(190,234,200)"/>
<rect x="380.5" y="388" width="22.4" height="21.88" fill="rgb(249,198,193)"/>
<rect x="402.9" y="388" width="22.4" height="21.88" fill="rgb(249,198,193)"/>
<rect x="425.3" y="388" width="22.4" height="21.88" fill="rgb(249,198,193)"/>
<rect x="447.7" y="388" width="22.5" height="21.88" fill="rgb(247,247,247)"/>
<rect x="268.5" y="409.88" width="22.4" height="21.88" fill="rgb(249,198,193)"/>
<rect x="290.9" y="409.88" width="22.4" height="21.88" fill="rgb(249,198,193)"/>
<rect x="313.3" y="409.88" width="22.4" height="21.88" fill="rgb(249,198,193)"/>
<rect x="335.7" y="409.88" width="22.4" height="21.88" fill="rgb(249,198,193)"/>
<rect x="358.1" y="409.88" width="22.4" height="21.88" fill="rgb(249,198,193)"/>
<rect x="380.5" y="409.88" width="22.4" height="21.88" fill="rgb(190,234,200)"/>
<rect x="402.9" y="409.88" width="22.4" height="21.88" fill="rgb(249,198,193)"/>
<rect x="425.3" y="409.88" width="22.4" height="21.88" fill="rgb(249,198,193)"/>
<rect x="447.7" y="409.88" width="22.5" height="21.88" fill="rgb(247,247,247)"/>
<rect x="268.5" y="431.75" width="22.4" height="21.88" fill="rgb(249,198,193)"/>
<rect x="290.9" y="431.75" width="22.4" height="21.88" fill="rgb(249,198,193)"/>
<rect x="313.3" y="431.75" width="22.4" height="21.88" fill="rgb(249,198,193)"/>
<rect x="335.7" y="431.75" width="22.4" height="21.88" fill="rgb(249,198,193)"/>
<rect x="358.1" y="431.75" width="22.4" height="21.88" fill="rgb(249,198,193)"/>
<rect x="380.5" y="431.75" width="22.4" height="21.88" fill="rgb(249,198,193)"/>
<rect x="402.9" y="431.75" width="22.4" height="21.88" fill="rgb(190,234,200)"/>
<rect x="425.3" y="431.75" width="22.4" height="21.88" fill="rgb(249,198,193)"/>
<rect x="447.7" y="431.75" width="22.5" height="21.88" fill="rgb(247,247,247)"/>
<rect x="268.5" y="453.62" width="22.4" height="21.88" fill="rgb(249,198,193)"/>
<rect x="290.9" y="453.62" width="22.4" height="21.88" fill="rgb(249,198,193)"/>
<rect x="313.3" y="453.62" width="22.4" height="21.88" fill="rgb(249,198,193)"/>
<rect x="335.7" y="453.62" width="22.4" height="21.88" fill="rgb(249,198,193)"/>
<rect x="358.1" y="453.62" width="22.4" height="21.88" fill="rgb(249,198,193)"/>
<rect x="380.5" y="453.62" width="22.4" height="21.88" fill="rgb(249,198,193)"/>
<rect x="402.9" y="453.62" width="22.4" height="21.88" fill="rgb(249,198,193)"/>
<rect x="425.3" y="453.62" width="22.4" height="21.88" fill="rgb(190,234,200)"/>
<rect x="447.7" y="453.62" width="22.5" height="21.88" fill="rgb(247,247,247)"/>
<rect x="268.5" y="475.5" width="22.4" height="21.8" fill="rgb(247,247,247)"/>
<rect x="290.9" y="475.5" width="22.4" height="21.8" fill="rgb(247,247,247)"/>
<rect x="313.3" y="475.5" width="22.4" height="21.8" fill="rgb(247,247,247)"/>
<rect x="335.7" y="475.5" width="22.4" height="21.8" fill="rgb(247,247,247)"/>
<rect x="358.1" y="475.5" width="22.4" height="21.8" fill="rgb(247,247,247)"/>
<rect x="380.5" y="475.5" width="22.4" height="21.8" fill="rgb(247,247,247)"/>
<rect x="402.9" y="475.5" width="22.4" height="21.8" fill="rgb(247,247,247)"/>
<rect x="425.3" y="475.5" width="22.4" height="21.8" fill="rgb(247,247,247)"/>
<rect x="447.7" y="475.5" width="22.5" height="21.8" fill="rgb(225,225,226)"/>
<line x1="290.9" y1="300.5" x2="290.9" y2="497.3" stroke="#5a4848" stroke-width="0.9"/>
<line x1="268.5" y1="322.38" x2="470.2" y2="322.38" stroke="#5a4848" stroke-width="0.9"/>
<line x1="313.3" y1="300.5" x2="313.3" y2="497.3" stroke="#5a4848" stroke-width="0.9"/>
<line x1="268.5" y1="344.25" x2="470.2" y2="344.25" stroke="#5a4848" stroke-width="0.9"/>
<line x1="335.7" y1="300.5" x2="335.7" y2="497.3" stroke="#5a4848" stroke-width="0.9"/>
<line x1="268.5" y1="366.12" x2="470.2" y2="366.12" stroke="#5a4848" stroke-width="0.9"/>
<line x1="358.1" y1="300.5" x2="358.1" y2="497.3" stroke="#5a4848" stroke-width="0.9"/>
<line x1="268.5" y1="388" x2="470.2" y2="388" stroke="#5a4848" stroke-width="0.9"/>
<line x1="380.5" y1="300.5" x2="380.5" y2="497.3" stroke="#5a4848" stroke-width="0.9"/>
<line x1="268.5" y1="409.88" x2="470.2" y2="409.88" stroke="#5a4848" stroke-width="0.9"/>
<line x1="402.9" y1="300.5" x2="402.9" y2="497.3" stroke="#5a4848" stroke-width="0.9"/>
<line x1="268.5" y1="431.75" x2="470.2" y2="431.75" stroke="#5a4848" stroke-width="0.9"/>
<line x1="425.3" y1="300.5" x2="425.3" y2="497.3" stroke="#5a4848" stroke-width="0.9"/>
<line x1="268.5" y1="453.62" x2="470.2" y2="453.62" stroke="#5a4848" stroke-width="0.9"/>
<line x1="447.7" y1="300.5" x2="447.7" y2="497.3" stroke="#1a1a1a" stroke-width="2"/>
<line x1="268.5" y1="475.5" x2="470.2" y2="475.5" stroke="#1a1a1a" stroke-width="2"/>
<rect x="268.5" y="300.5" width="201.7" height="196.8" fill="none" stroke="#555" stroke-width="1"/>
<path d="M447.7,300.5 H470.2 V497.3 H268.5 V475.5" fill="none" stroke="#606060" stroke-width="1.5"/>
</g>
<g filter="url(#bt)">
<text transform="translate(34.82,28.22) scale(1,1.121)" class="cnt" font-size="7.25">436</text>
<text transform="translate(34.82,38.92) scale(1,1.121)" class="pct" font-size="7.25">12.7%</text>
<text transform="translate(55.66,28.22) scale(1,1.121)" class="cnt" font-size="7.25">0</text>
<text transform="translate(55.66,38.92) scale(1,1.121)" class="pct" font-size="7.25">0.0%</text>
<text transform="translate(76.49,28.22) scale(1,1.121)" class="cnt" font-size="7.25">0</text>
<text transform="translate(76.49,38.92) scale(1,1.121)" class="pct" font-size="7.25">0.0%</text>
<text transform="translate(97.33,28.22) scale(1,1.121)" class="cnt" font-size="7.25">0</text>
<text transform="translate(97.33,38.92) scale(1,1.121)" class="pct" font-size="7.25">0.0%</text>
<text transform="translate(118.17,28.22) scale(1,1.121)" class="cnt" font-size="7.25">0</text>
<text transform="translate(118.17,38.92) scale(1,1.121)" class="pct" font-size="7.25">0.0%</text>
<text transform="translate(139.01,28.22) scale(1,1.121)" class="cnt" font-size="7.25">0</text>
<text transform="translate(139.01,38.92) scale(1,1.121)" class="pct" font-size="7.25">0.0%</text>
<text transform="translate(159.84,28.22) scale(1,1.121)" class="cnt" font-size="7.25">0</text>
<text transform="translate(159.84,38.92) scale(1,1.121)" class="pct" font-size="7.25">0.0%</text>
<text transform="translate(180.68,28.22) scale(1,1.121)" class="cnt" font-size="7.25">0</text>
<text transform="translate(180.68,38.92) scale(1,1.121)" class="pct" font-size="7.25">0.0%</text>
<text transform="translate(201.4,28.22) scale(1,1.164)" class="sg" font-size="7.16">100%</text>
<text transform="translate(201.4,38.92) scale(1,1.164)" class="sr" font-size="7.16">0.0%</text>
<text transform="translate(34.82,50.98) scale(1,1.121)" class="cnt" font-size="7.25">7</text>
<text transform="translate(34.82,61.68) scale(1,1.121)" class="pct" font-size="7.25">0.2%</text>
<text transform="translate(55.66,50.98) scale(1,1.121)" class="cnt" font-size="7.25">421</text>
<text transform="translate(55.66,61.68) scale(1,1.121)" class="pct" font-size="7.25">12.3%</text>
<text transform="translate(76.49,50.98) scale(1,1.121)" class="cnt" font-size="7.25">0</text>
<text transform="translate(76.49,61.68) scale(1,1.121)" class="pct" font-size="7.25">0.0%</text>
<text transform="translate(97.33,50.98) scale(1,1.121)" class="cnt" font-size="7.25">0</text>
<text transform="translate(97.33,61.68) scale(1,1.121)" class="pct" font-size="7.25">0.0%</text>
<text transform="translate(118.17,50.98) scale(1,1.121)" class="cnt" font-size="7.25">0</text>
<text transform="translate(118.17,61.68) scale(1,1.121)" class="pct" font-size="7.25">0.0%</text>
<text transform="translate(139.01,50.98) scale(1,1.121)" class="cnt" font-size="7.25">0</text>
<text transform="translate(139.01,61.68) scale(1,1.121)" class="pct" font-size="7.25">0.0%</text>
<text transform="translate(159.84,50.98) scale(1,1.121)" class="cnt" font-size="7.25">0</text>
<text transform="translate(159.84,61.68) scale(1,1.121)" class="pct" font-size="7.25">0.0%</text>
<text transform="translate(180.68,50.98) scale(1,1.121)" class="cnt" font-size="7.25">0</text>
<text transform="translate(180.68,61.68) scale(1,1.121)" class="pct" font-size="7.25">0.0%</text>
<text transform="translate(201.4,50.98) scale(1,1.164)" class="sg" font-size="7.16">98.4%</text>
<text transform="translate(201.4,61.68) scale(1,1.164)" class="sr" font-size="7.16">1.6%</text>
<text transform="translate(34.82,73.74) scale(1,1.121)" class="cnt" font-size="7.25">0</text>
<text transform="translate(34.82,84.44) scale(1,1.121)" class="pct" font-size="7.25">0.0%</text>
<text transform="translate(55.66,73.74) scale(1,1.121)" class="cnt" font-size="7.25">0</text>
<text transform="translate(55.66,84.44) scale(1,1.121)" class="pct" font-size="7.25">0.0%</text>
<text transform="translate(76.49,73.74) scale(1,1.121)" class="cnt" font-size="7.25">434</text>
<text transform="translate(76.49,84.44) scale(1,1.121)" class="pct" font-size="7.25">12.7%</text>
<text transform="translate(97.33,73.74) scale(1,1.121)" class="cnt" font-size="7.25">0</text>
<text transform="translate(97.33,84.44) scale(1,1.121)" class="pct" font-size="7.25">0.0%</text>
<text transform="translate(118.17,73.74) scale(1,1.121)" class="cnt" font-size="7.25">0</text>
<text transform="translate(118.17,84.44) scale(1,1.121)" class="pct" font-size="7.25">0.0%</text>
<text transform="translate(139.01,73.74) scale(1,1.121)" class="cnt" font-size="7.25">0</text>
<text transform="translate(139.01,84.44) scale(1,1.121)" class="pct" font-size="7.25">0.0%</text>
<text transform="translate(159.84,73.74) scale(1,1.121)" class="cnt" font-size="7.25">0</text>
<text transform="translate(159.84,84.44) scale(1,1.121)" class="pct" font-size="7.25">0.0%</text>
<text transform="translate(180.68,73.74) scale(1,1.121)" class="cnt" font-size="7.25">0</text>
<text transform="translate(180.68,84.44) scale(1,1.121)" class="pct" font-size="7.25">0.0%</text>
<text transform="translate(201.4,73.74) scale(1,1.164)" class="sg" font-size="7.16">100%</text>
<text transform="translate(201.4,84.44) scale(1,1.164)" class="sr" font-size="7.16">0.0%</text>
<text transform="translate(34.82,96.51) scale(1,1.121)" class="cnt" font-size="7.25">0</text>
<text transform="translate(34.82,107.2) scale(1,1.121)" class="pct" font-size="7.25">0.0%</text>
<text transform="translate(55.66,96.51) scale(1,1.121)" class="cnt" font-size="7.25">19</text>
<text transform="translate(55.66,107.2) scale(1,1.121)" class="pct" font-size="7.25">0.6%</text>
<text transform="translate(76.49,96.51) scale(1,1.121)" class="cnt" font-size="7.25">0</text>
<text transform="translate(76.49,107.2) scale(1,1.121)" class="pct" font-size="7.25">0.0%</text>
<text transform="translate(97.33,96.51) scale(1,1.121)" class="cnt" font-size="7.25">414</text>
<text transform="translate(97.33,107.2) scale(1,1.121)" class="pct" font-size="7.25">12.1%</text>
<text transform="translate(118.17,96.51) scale(1,1.121)" class="cnt" font-size="7.25">0</text>
<text transform="translate(118.17,107.2) scale(1,1.121)" class="pct" font-size="7.25">0.0%</text>
<text transform="translate(139.01,96.51) scale(1,1.121)" class="cnt" font-size="7.25">0</text>
<text transform="translate(139.01,107.2) scale(1,1.121)" class="pct" font-size="7.25">0.0%</text>
<text transform="translate(159.84,96.51) scale(1,1.121)" class="cnt" font-size="7.25">0</text>
<text transform="translate(159.84,107.2) scale(1,1.121)" class="pct" font-size="7.25">0.0%</text>
<text transform="translate(180.68,96.51) scale(1,1.121)" class="cnt" font-size="7.25">0</text>
<text transform="translate(180.68,107.2) scale(1,1.121)" class="pct" font-size="7.25">0.0%</text>
<text transform="translate(201.4,96.51) scale(1,1.164)" class="sg" font-size="7.16">95.6%</text>
<text transform="translate(201.4,107.2) scale(1,1.164)" class="sr" font-size="7.16">4.4%</text>
<text transform="translate(34.82,119.27) scale(1,1.121)" class="cnt" font-size="7.25">1</text>
<text transform="translate(34.82,129.97) scale(1,1.121)" class="pct" font-size="7.25">0.0%</text>
<text transform="translate(55.66,119.27) scale(1,1.121)" class="cnt" font-size="7.25">1</text>
<text transform="translate(55.66,129.97) scale(1,1.121)" class="pct" font-size="7.25">0.0%</text>
<text transform="translate(76.49,119.27) scale(1,1.121)" class="cnt" font-size="7.25">0</text>
<text transform="translate(76.49,129.97) scale(1,1.121)" class="pct" font-size="7.25">0.0%</text>
<text transform="translate(97.33,119.27) scale(1,1.121)" class="cnt" font-size="7.25">1</text>
<text transform="translate(97.33,129.97) scale(1,1.121)" class="pct" font-size="7.25">0.0%</text>
<text transform="translate(118.17,119.27) scale(1,1.121)" class="cnt" font-size="7.25">421</text>
<text transform="translate(118.17,129.97) scale(1,1.121)" class="pct" font-size="7.25">12.3%</text>
<text transform="translate(139.01,119.27) scale(1,1.121)" class="cnt" font-size="7.25">1</text>
<text transform="translate(139.01,129.97) scale(1,1.121)" class="pct" font-size="7.25">0.0%</text>
<text transform="translate(159.84,119.27) scale(1,1.121)" class="cnt" font-size="7.25">0</text>
<text transform="translate(159.84,129.97) scale(1,1.121)" class="pct" font-size="7.25">0.0%</text>
<text transform="translate(180.68,119.27) scale(1,1.121)" class="cnt" font-size="7.25">0</text>
<text transform="translate(180.68,129.97) scale(1,1.121)" class="pct" font-size="7.25">0.0%</text>
<text transform="translate(201.4,119.27) scale(1,1.164)" class="sg" font-size="7.16">99.1%</text>
<text transform="translate(201.4,129.97) scale(1,1.164)" class="sr" font-size="7.16">0.9%</text>
<text transform="translate(34.82,142.03) scale(1,1.121)" class="cnt" font-size="7.25">0</text>
<text transform="translate(34.82,152.73) scale(1,1.121)" class="pct" font-size="7.25">0.0%</text>
<text transform="translate(55.66,142.03) scale(1,1.121)" class="cnt" font-size="7.25">0</text>
<text transform="translate(55.66,152.73) scale(1,1.121)" class="pct" font-size="7.25">0.0%</text>
<text transform="translate(76.49,142.03) scale(1,1.121)" class="cnt" font-size="7.25">0</text>
<text transform="translate(76.49,152.73) scale(1,1.121)" class="pct" font-size="7.25">0.0%</text>
<text transform="translate(97.33,142.03) scale(1,1.121)" class="cnt" font-size="7.25">0</text>
<text transform="translate(97.33,152.73) scale(1,1.121)" class="pct" font-size="7.25">0.0%</text>
<text transform="translate(118.17,142.03) scale(1,1.121)" class="cnt" font-size="7.25">0</text>
<text transform="translate(118.17,152.73) scale(1,1.121)" class="pct" font-size="7.25">0.0%</text>
<text transform="translate(139.01,142.03) scale(1,1.121)" class="cnt" font-size="7.25">231</text>
<text transform="translate(139.01,152.73) scale(1,1.121)" class="pct" font-size="7.25">6.8%</text>
<text transform="translate(159.84,142.03) scale(1,1.121)" class="cnt" font-size="7.25">33</text>
<text transform="translate(159.84,152.73) scale(1,1.121)" class="pct" font-size="7.25">1.0%</text>
<text transform="translate(180.68,142.03) scale(1,1.121)" class="cnt" font-size="7.25">182</text>
<text transform="translate(180.68,152.73) scale(1,1.121)" class="pct" font-size="7.25">5.3%</text>
<text transform="translate(201.4,142.03) scale(1,1.164)" class="sg" font-size="7.16">51.8%</text>
<text transform="translate(201.4,152.73) scale(1,1.164)" class="sr" font-size="7.16">48.2%</text>
<text transform="translate(34.82,164.79) scale(1,1.121)" class="cnt" font-size="7.25">0</text>
<text transform="translate(34.82,175.49) scale(1,1.121)" class="pct" font-size="7.25">0.0%</text>
<text transform="translate(55.66,164.79) scale(1,1.121)" class="cnt" font-size="7.25">0</text>
<text transform="translate(55.66,175.49) scale(1,1.121)" class="pct" font-size="7.25">0.0%</text>
<text transform="translate(76.49,164.79) scale(1,1.121)" class="cnt" font-size="7.25">0</text>
<text transform="translate(76.49,175.49) scale(1,1.121)" class="pct" font-size="7.25">0.0%</text>
<text transform="translate(97.33,164.79) scale(1,1.121)" class="cnt" font-size="7.25">0</text>
<text transform="translate(97.33,175.49) scale(1,1.121)" class="pct" font-size="7.25">0.0%</text>
<text transform="translate(118.17,164.79) scale(1,1.121)" class="cnt" font-size="7.25">0</text>
<text transform="translate(118.17,175.49) scale(1,1.121)" class="pct" font-size="7.25">0.0%</text>
<text transform="translate(139.01,164.79) scale(1,1.121)" class="cnt" font-size="7.25">53</text>
<text transform="translate(139.01,175.49) scale(1,1.121)" class="pct" font-size="7.25">1.5%</text>
<text transform="translate(159.84,164.79) scale(1,1.121)" class="cnt" font-size="7.25">343</text>
<text transform="translate(159.84,175.49) scale(1,1.121)" class="pct" font-size="7.25">10.0%</text>
<text transform="translate(180.68,164.79) scale(1,1.121)" class="cnt" font-size="7.25">90</text>
<text transform="translate(180.68,175.49) scale(1,1.121)" class="pct" font-size="7.25">2.6%</text>
<text transform="translate(201.4,164.79) scale(1,1.164)" class="sg" font-size="7.16">70.6%</text>
<text transform="translate(201.4,175.49) scale(1,1.164)" class="sr" font-size="7.16">29.4%</text>
<text transform="translate(34.82,187.56) scale(1,1.121)" class="cnt" font-size="7.25">0</text>
<text transform="translate(34.82,198.25) scale(1,1.121)" class="pct" font-size="7.25">0.0%</text>
<text transform="translate(55.66,187.56) scale(1,1.121)" class="cnt" font-size="7.25">0</text>
<text transform="translate(55.66,198.25) scale(1,1.121)" class="pct" font-size="7.25">0.0%</text>
<text transform="translate(76.49,187.56) scale(1,1.121)" class="cnt" font-size="7.25">0</text>
<text transform="translate(76.49,198.25) scale(1,1.121)" class="pct" font-size="7.25">0.0%</text>
<text transform="translate(97.33,187.56) scale(1,1.121)" class="cnt" font-size="7.25">0</text>
<text transform="translate(97.33,198.25) scale(1,1.121)" class="pct" font-size="7.25">0.0%</text>
<text transform="translate(118.17,187.56) scale(1,1.121)" class="cnt" font-size="7.25">0</text>
<text transform="translate(118.17,198.25) scale(1,1.121)" class="pct" font-size="7.25">0.0%</text>
<text transform="translate(139.01,187.56) scale(1,1.121)" class="cnt" font-size="7.25">139</text>
<text transform="translate(139.01,198.25) scale(1,1.121)" class="pct" font-size="7.25">4.1%</text>
<text transform="translate(159.84,187.56) scale(1,1.121)" class="cnt" font-size="7.25">43</text>
<text transform="translate(159.84,198.25) scale(1,1.121)" class="pct" font-size="7.25">1.3%</text>
<text transform="translate(180.68,187.56) scale(1,1.121)" class="cnt" font-size="7.25">150</text>
<text transform="translate(180.68,198.25) scale(1,1.121)" class="pct" font-size="7.25">4.4%</text>
<text transform="translate(201.4,187.56) scale(1,1.164)" class="sg" font-size="7.16">45.2%</text>
<text transform="translate(201.4,198.25) scale(1,1.164)" class="sr" font-size="7.16">54.8%</text>
<text transform="translate(34.82,210.6) scale(1,1.164)" class="sg" font-size="7.16">98.2%</text>
<text transform="translate(34.82,221.76) scale(1,1.164)" class="sr" font-size="7.16">1.8%</text>
<text transform="translate(55.66,210.6) scale(1,1.164)" class="sg" font-size="7.16">95.5%</text>
<text transform="translate(55.66,221.76) scale(1,1.164)" class="sr" font-size="7.16">4.5%</text>
<text transform="translate(76.49,210.6) scale(1,1.164)" class="sg" font-size="7.16">100%</text>
<text transform="translate(76.49,221.76) scale(1,1.164)" class="sr" font-size="7.16">0.0%</text>
<text transform="translate(97.33,210.6) scale(1,1.164)" class="sg" font-size="7.16">99.8%</text>
<text transform="translate(97.33,221.76) scale(1,1.164)" class="sr" font-size="7.16">0.2%</text>
<text transform="translate(118.17,210.6) scale(1,1.164)" class="sg" font-size="7.16">100%</text>
<text transform="translate(118.17,221.76) scale(1,1.164)" class="sr" font-size="7.16">0.0%</text>
<text transform="translate(139.01,210.6) scale(1,1.164)" class="sg" font-size="7.16">54.5%</text>
<text transform="translate(139.01,221.76) scale(1,1.164)" class="sr" font-size="7.16">45.5%</text>
<text transform="translate(159.84,210.6) scale(1,1.164)" class="sg" font-size="7.16">81.9%</text>
<text transform="translate(159.84,221.76) scale(1,1.164)" class="sr" font-size="7.16">18.1%</text>
<text transform="translate(180.68,210.6) scale(1,1.164)" class="sg" font-size="7.16">35.5%</text>
<text transform="translate(180.68,221.76) scale(1,1.164)" class="sr" font-size="7.16">64.5%</text>
<text transform="translate(201.4,210.6) scale(1,1.164)" class="sgb" font-size="7.16">83.3%</text>
<text transform="translate(201.4,221.76) scale(1,1.164)" class="srb" font-size="7.16">16.7%</text>
<text transform="translate(118.05,13.7) scale(1,1.107)" class="ttl" font-size="9.13">Training Confusion Matrix</text>
<text class="lab" font-size="10.01" transform="translate(9.1,120.7) rotate(-90) scale(1,0.903)" x="0" y="3.6">Output Class</text>
<text transform="translate(118.05,249.7) scale(1,1.107)" class="lab" font-size="9.04">Target Class</text>
<text transform="translate(18.5,33.98) scale(1,1.107)" class="tick" font-size="7.53">1</text>
<text transform="translate(18.5,56.74) scale(1,1.107)" class="tick" font-size="7.53">2</text>
<text transform="translate(18.5,79.51) scale(1,1.107)" class="tick" font-size="7.53">3</text>
<text transform="translate(18.5,102.27) scale(1,1.107)" class="tick" font-size="7.53">4</text>
<text transform="translate(18.5,125.03) scale(1,1.107)" class="tick" font-size="7.53">5</text>
<text transform="translate(18.5,147.79) scale(1,1.107)" class="tick" font-size="7.53">6</text>
<text transform="translate(18.5,170.56) scale(1,1.107)" class="tick" font-size="7.53">7</text>
<text transform="translate(18.5,193.32) scale(1,1.107)" class="tick" font-size="7.53">8</text>
<text class="xtick" font-size="7.07" transform="translate(37.11,233.9) rotate(-45)" x="0" y="2.54">1</text>
<text class="xtick" font-size="7.07" transform="translate(57.95,233.9) rotate(-45)" x="0" y="2.54">2</text>
<text class="xtick" font-size="7.07" transform="translate(78.79,233.9) rotate(-45)" x="0" y="2.54">3</text>
<text class="xtick" font-size="7.07" transform="translate(99.63,233.9) rotate(-45)" x="0" y="2.54">4</text>
<text class="xtick" font-size="7.07" transform="translate(120.46,233.9) rotate(-45)" x="0" y="2.54">5</text>
<text class="xtick" font-size="7.07" transform="translate(141.3,233.9) rotate(-45)" x="0" y="2.54">6</text>
<text class="xtick" font-size="7.07" transform="translate(162.14,233.9) rotate(-45)" x="0" y="2.54">7</text>
<text class="xtick" font-size="7.07" transform="translate(182.98,233.9) rotate(-45)" x="0" y="2.54">8</text>
<text x="116.5" y="272.2" class="cap" font-size="14">(<tspan font-weight="bold">a</tspan>)</text>
<text transform="translate(275.86,31.76) scale(1,1.012)" class="cnt" font-size="7.9">25</text>
<text transform="translate(275.86,42.28) scale(1,1.012)" class="pct" font-size="7.9">11.0%</text>
<text transform="translate(298.57,31.76) scale(1,1.012)" class="cnt" font-size="7.9">0</text>
<text transform="translate(298.57,42.28) scale(1,1.012)" class="pct" font-size="7.9">0.0%</text>
<text transform="translate(321.28,31.76) scale(1,1.012)" class="cnt" font-size="7.9">0</text>
<text transform="translate(321.28,42.28) scale(1,1.012)" class="pct" font-size="7.9">0.0%</text>
<text transform="translate(343.99,31.76) scale(1,1.012)" class="cnt" font-size="7.9">0</text>
<text transform="translate(343.99,42.28) scale(1,1.012)" class="pct" font-size="7.9">0.0%</text>
<text transform="translate(366.71,31.76) scale(1,1.012)" class="cnt" font-size="7.9">0</text>
<text transform="translate(366.71,42.28) scale(1,1.012)" class="pct" font-size="7.9">0.0%</text>
<text transform="translate(389.42,31.76) scale(1,1.012)" class="cnt" font-size="7.9">0</text>
<text transform="translate(389.42,42.28) scale(1,1.012)" class="pct" font-size="7.9">0.0%</text>
<text transform="translate(412.13,31.76) scale(1,1.012)" class="cnt" font-size="7.9">0</text>
<text transform="translate(412.13,42.28) scale(1,1.012)" class="pct" font-size="7.9">0.0%</text>
<text transform="translate(434.84,31.76) scale(1,1.012)" class="cnt" font-size="7.9">0</text>
<text transform="translate(434.84,42.28) scale(1,1.012)" class="pct" font-size="7.9">0.0%</text>
<text transform="translate(457.5,31.76) scale(1,1.050)" class="sg" font-size="7.8">100%</text>
<text transform="translate(457.5,42.28) scale(1,1.050)" class="sr" font-size="7.8">0.0%</text>
<text transform="translate(275.86,54.14) scale(1,1.012)" class="cnt" font-size="7.9">1</text>
<text transform="translate(275.86,64.65) scale(1,1.012)" class="pct" font-size="7.9">0.4%</text>
<text transform="translate(298.57,54.14) scale(1,1.012)" class="cnt" font-size="7.9">34</text>
<text transform="translate(298.57,64.65) scale(1,1.012)" class="pct" font-size="7.9">14.9%</text>
<text transform="translate(321.28,54.14) scale(1,1.012)" class="cnt" font-size="7.9">0</text>
<text transform="translate(321.28,64.65) scale(1,1.012)" class="pct" font-size="7.9">0.0%</text>
<text transform="translate(343.99,54.14) scale(1,1.012)" class="cnt" font-size="7.9">0</text>
<text transform="translate(343.99,64.65) scale(1,1.012)" class="pct" font-size="7.9">0.0%</text>
<text transform="translate(366.71,54.14) scale(1,1.012)" class="cnt" font-size="7.9">0</text>
<text transform="translate(366.71,64.65) scale(1,1.012)" class="pct" font-size="7.9">0.0%</text>
<text transform="translate(389.42,54.14) scale(1,1.012)" class="cnt" font-size="7.9">0</text>
<text transform="translate(389.42,64.65) scale(1,1.012)" class="pct" font-size="7.9">0.0%</text>
<text transform="translate(412.13,54.14) scale(1,1.012)" class="cnt" font-size="7.9">0</text>
<text transform="translate(412.13,64.65) scale(1,1.012)" class="pct" font-size="7.9">0.0%</text>
<text transform="translate(434.84,54.14) scale(1,1.012)" class="cnt" font-size="7.9">0</text>
<text transform="translate(434.84,64.65) scale(1,1.012)" class="pct" font-size="7.9">0.0%</text>
<text transform="translate(457.5,54.14) scale(1,1.050)" class="sg" font-size="7.8">97.1%</text>
<text transform="translate(457.5,64.65) scale(1,1.050)" class="sr" font-size="7.8">2.9%</text>
<text transform="translate(275.86,76.51) scale(1,1.012)" class="cnt" font-size="7.9">0</text>
<text transform="translate(275.86,87.03) scale(1,1.012)" class="pct" font-size="7.9">0.0%</text>
<text transform="translate(298.57,76.51) scale(1,1.012)" class="cnt" font-size="7.9">0</text>
<text transform="translate(298.57,87.03) scale(1,1.012)" class="pct" font-size="7.9">0.0%</text>
<text transform="translate(321.28,76.51) scale(1,1.012)" class="cnt" font-size="7.9">25</text>
<text transform="translate(321.28,87.03) scale(1,1.012)" class="pct" font-size="7.9">11.0%</text>
<text transform="translate(343.99,76.51) scale(1,1.012)" class="cnt" font-size="7.9">0</text>
<text transform="translate(343.99,87.03) scale(1,1.012)" class="pct" font-size="7.9">0.0%</text>
<text transform="translate(366.71,76.51) scale(1,1.012)" class="cnt" font-size="7.9">0</text>
<text transform="translate(366.71,87.03) scale(1,1.012)" class="pct" font-size="7.9">0.0%</text>
<text transform="translate(389.42,76.51) scale(1,1.012)" class="cnt" font-size="7.9">0</text>
<text transform="translate(389.42,87.03) scale(1,1.012)" class="pct" font-size="7.9">0.0%</text>
<text transform="translate(412.13,76.51) scale(1,1.012)" class="cnt" font-size="7.9">0</text>
<text transform="translate(412.13,87.03) scale(1,1.012)" class="pct" font-size="7.9">0.0%</text>
<text transform="translate(434.84,76.51) scale(1,1.012)" class="cnt" font-size="7.9">0</text>
<text transform="translate(434.84,87.03) scale(1,1.012)" class="pct" font-size="7.9">0.0%</text>
<text transform="translate(457.5,76.51) scale(1,1.050)" class="sg" font-size="7.8">100%</text>
<text transform="translate(457.5,87.03) scale(1,1.050)" class="sr" font-size="7.8">0.0%</text>
<text transform="translate(275.86,98.89) scale(1,1.012)" class="cnt" font-size="7.9">0</text>
<text transform="translate(275.86,109.4) scale(1,1.012)" class="pct" font-size="7.9">0.0%</text>
<text transform="translate(298.57,98.89) scale(1,1.012)" class="cnt" font-size="7.9">1</text>
<text transform="translate(298.57,109.4) scale(1,1.012)" class="pct" font-size="7.9">0.4%</text>
<text transform="translate(321.28,98.89) scale(1,1.012)" class="cnt" font-size="7.9">0</text>
<text transform="translate(321.28,109.4) scale(1,1.012)" class="pct" font-size="7.9">0.0%</text>
<text transform="translate(343.99,98.89) scale(1,1.012)" class="cnt" font-size="7.9">33</text>
<text transform="translate(343.99,109.4) scale(1,1.012)" class="pct" font-size="7.9">14.5%</text>
<text transform="translate(366.71,98.89) scale(1,1.012)" class="cnt" font-size="7.9">0</text>
<text transform="translate(366.71,109.4) scale(1,1.012)" class="pct" font-size="7.9">0.0%</text>
<text transform="translate(389.42,98.89) scale(1,1.012)" class="cnt" font-size="7.9">0</text>
<text transform="translate(389.42,109.4) scale(1,1.012)" class="pct" font-size="7.9">0.0%</text>
<text transform="translate(412.13,98.89) scale(1,1.012)" class="cnt" font-size="7.9">0</text>
<text transform="translate(412.13,109.4) scale(1,1.012)" class="pct" font-size="7.9">0.0%</text>
<text transform="translate(434.84,98.89) scale(1,1.012)" class="cnt" font-size="7.9">0</text>
<text transform="translate(434.84,109.4) scale(1,1.012)" class="pct" font-size="7.9">0.0%</text>
<text transform="translate(457.5,98.89) scale(1,1.050)" class="sg" font-size="7.8">97.1%</text>
<text transform="translate(457.5,109.4) scale(1,1.050)" class="sr" font-size="7.8">2.9%</text>
<text transform="translate(275.86,121.26) scale(1,1.012)" class="cnt" font-size="7.9">0</text>
<text transform="translate(275.86,131.78) scale(1,1.012)" class="pct" font-size="7.9">0.0%</text>
<text transform="translate(298.57,121.26) scale(1,1.012)" class="cnt" font-size="7.9">0</text>
<text transform="translate(298.57,131.78) scale(1,1.012)" class="pct" font-size="7.9">0.0%</text>
<text transform="translate(321.28,121.26) scale(1,1.012)" class="cnt" font-size="7.9">0</text>
<text transform="translate(321.28,131.78) scale(1,1.012)" class="pct" font-size="7.9">0.0%</text>
<text transform="translate(343.99,121.26) scale(1,1.012)" class="cnt" font-size="7.9">0</text>
<text transform="translate(343.99,131.78) scale(1,1.012)" class="pct" font-size="7.9">0.0%</text>
<text transform="translate(366.71,121.26) scale(1,1.012)" class="cnt" font-size="7.9">21</text>
<text transform="translate(366.71,131.78) scale(1,1.012)" class="pct" font-size="7.9">9.2%</text>
<text transform="translate(389.42,121.26) scale(1,1.012)" class="cnt" font-size="7.9">0</text>
<text transform="translate(389.42,131.78) scale(1,1.012)" class="pct" font-size="7.9">0.0%</text>
<text transform="translate(412.13,121.26) scale(1,1.012)" class="cnt" font-size="7.9">0</text>
<text transform="translate(412.13,131.78) scale(1,1.012)" class="pct" font-size="7.9">0.0%</text>
<text transform="translate(434.84,121.26) scale(1,1.012)" class="cnt" font-size="7.9">0</text>
<text transform="translate(434.84,131.78) scale(1,1.012)" class="pct" font-size="7.9">0.0%</text>
<text transform="translate(457.5,121.26) scale(1,1.050)" class="sg" font-size="7.8">100%</text>
<text transform="translate(457.5,131.78) scale(1,1.050)" class="sr" font-size="7.8">0.0%</text>
<text transform="translate(275.86,143.64) scale(1,1.012)" class="cnt" font-size="7.9">0</text>
<text transform="translate(275.86,154.15) scale(1,1.012)" class="pct" font-size="7.9">0.0%</text>
<text transform="translate(298.57,143.64) scale(1,1.012)" class="cnt" font-size="7.9">0</text>
<text transform="translate(298.57,154.15) scale(1,1.012)" class="pct" font-size="7.9">0.0%</text>
<text transform="translate(321.28,143.64) scale(1,1.012)" class="cnt" font-size="7.9">0</text>
<text transform="translate(321.28,154.15) scale(1,1.012)" class="pct" font-size="7.9">0.0%</text>
<text transform="translate(343.99,143.64) scale(1,1.012)" class="cnt" font-size="7.9">0</text>
<text transform="translate(343.99,154.15) scale(1,1.012)" class="pct" font-size="7.9">0.0%</text>
<text transform="translate(366.71,143.64) scale(1,1.012)" class="cnt" font-size="7.9">0</text>
<text transform="translate(366.71,154.15) scale(1,1.012)" class="pct" font-size="7.9">0.0%</text>
<text transform="translate(389.42,143.64) scale(1,1.012)" class="cnt" font-size="7.9">18</text>
<text transform="translate(389.42,154.15) scale(1,1.012)" class="pct" font-size="7.9">7.9%</text>
<text transform="translate(412.13,143.64) scale(1,1.012)" class="cnt" font-size="7.9">1</text>
<text transform="translate(412.13,154.15) scale(1,1.012)" class="pct" font-size="7.9">0.4%</text>
<text transform="translate(434.84,143.64) scale(1,1.012)" class="cnt" font-size="7.9">14</text>
<text transform="translate(434.84,154.15) scale(1,1.012)" class="pct" font-size="7.9">6.1%</text>
<text transform="translate(457.5,143.64) scale(1,1.050)" class="sg" font-size="7.8">54.5%</text>
<text transform="translate(457.5,154.15) scale(1,1.050)" class="sr" font-size="7.8">45.5%</text>
<text transform="translate(275.86,166.01) scale(1,1.012)" class="cnt" font-size="7.9">0</text>
<text transform="translate(275.86,176.53) scale(1,1.012)" class="pct" font-size="7.9">0.0%</text>
<text transform="translate(298.57,166.01) scale(1,1.012)" class="cnt" font-size="7.9">0</text>
<text transform="translate(298.57,176.53) scale(1,1.012)" class="pct" font-size="7.9">0.0%</text>
<text transform="translate(321.28,166.01) scale(1,1.012)" class="cnt" font-size="7.9">0</text>
<text transform="translate(321.28,176.53) scale(1,1.012)" class="pct" font-size="7.9">0.0%</text>
<text transform="translate(343.99,166.01) scale(1,1.012)" class="cnt" font-size="7.9">0</text>
<text transform="translate(343.99,176.53) scale(1,1.012)" class="pct" font-size="7.9">0.0%</text>
<text transform="translate(366.71,166.01) scale(1,1.012)" class="cnt" font-size="7.9">0</text>
<text transform="translate(366.71,176.53) scale(1,1.012)" class="pct" font-size="7.9">0.0%</text>
<text transform="translate(389.42,166.01) scale(1,1.012)" class="cnt" font-size="7.9">3</text>
<text transform="translate(389.42,176.53) scale(1,1.012)" class="pct" font-size="7.9">1.3%</text>
<text transform="translate(412.13,166.01) scale(1,1.012)" class="cnt" font-size="7.9">25</text>
<text transform="translate(412.13,176.53) scale(1,1.012)" class="pct" font-size="7.9">11.0%</text>
<text transform="translate(434.84,166.01) scale(1,1.012)" class="cnt" font-size="7.9">8</text>
<text transform="translate(434.84,176.53) scale(1,1.012)" class="pct" font-size="7.9">3.5%</text>
<text transform="translate(457.5,166.01) scale(1,1.050)" class="sg" font-size="7.8">69.4%</text>
<text transform="translate(457.5,176.53) scale(1,1.050)" class="sr" font-size="7.8">30.6%</text>
<text transform="translate(275.86,188.39) scale(1,1.012)" class="cnt" font-size="7.9">0</text>
<text transform="translate(275.86,198.9) scale(1,1.012)" class="pct" font-size="7.9">0.0%</text>
<text transform="translate(298.57,188.39) scale(1,1.012)" class="cnt" font-size="7.9">0</text>
<text transform="translate(298.57,198.9) scale(1,1.012)" class="pct" font-size="7.9">0.0%</text>
<text transform="translate(321.28,188.39) scale(1,1.012)" class="cnt" font-size="7.9">0</text>
<text transform="translate(321.28,198.9) scale(1,1.012)" class="pct" font-size="7.9">0.0%</text>
<text transform="translate(343.99,188.39) scale(1,1.012)" class="cnt" font-size="7.9">0</text>
<text transform="translate(343.99,198.9) scale(1,1.012)" class="pct" font-size="7.9">0.0%</text>
<text transform="translate(366.71,188.39) scale(1,1.012)" class="cnt" font-size="7.9">0</text>
<text transform="translate(366.71,198.9) scale(1,1.012)" class="pct" font-size="7.9">0.0%</text>
<text transform="translate(389.42,188.39) scale(1,1.012)" class="cnt" font-size="7.9">9</text>
<text transform="translate(389.42,198.9) scale(1,1.012)" class="pct" font-size="7.9">3.9%</text>
<text transform="translate(412.13,188.39) scale(1,1.012)" class="cnt" font-size="7.9">3</text>
<text transform="translate(412.13,198.9) scale(1,1.012)" class="pct" font-size="7.9">1.3%</text>
<text transform="translate(434.84,188.39) scale(1,1.012)" class="cnt" font-size="7.9">7</text>
<text transform="translate(434.84,198.9) scale(1,1.012)" class="pct" font-size="7.9">3.1%</text>
<text transform="translate(457.5,188.39) scale(1,1.050)" class="sg" font-size="7.8">36.8%</text>
<text transform="translate(457.5,198.9) scale(1,1.050)" class="sr" font-size="7.8">63.2%</text>
<text transform="translate(275.86,211.03) scale(1,1.050)" class="sg" font-size="7.8">96.2%</text>
<text transform="translate(275.86,221.99) scale(1,1.050)" class="sr" font-size="7.8">3.8%</text>
<text transform="translate(298.57,211.03) scale(1,1.050)" class="sg" font-size="7.8">97.1%</text>
<text transform="translate(298.57,221.99) scale(1,1.050)" class="sr" font-size="7.8">2.9%</text>
<text transform="translate(321.28,211.03) scale(1,1.050)" class="sg" font-size="7.8">100%</text>
<text transform="translate(321.28,221.99) scale(1,1.050)" class="sr" font-size="7.8">0.0%</text>
<text transform="translate(343.99,211.03) scale(1,1.050)" class="sg" font-size="7.8">100%</text>
<text transform="translate(343.99,221.99) scale(1,1.050)" class="sr" font-size="7.8">0.0%</text>
<text transform="translate(366.71,211.03) scale(1,1.050)" class="sg" font-size="7.8">100%</text>
<text transform="translate(366.71,221.99) scale(1,1.050)" class="sr" font-size="7.8">0.0%</text>
<text transform="translate(389.42,211.03) scale(1,1.050)" class="sg" font-size="7.8">60.0%</text>
<text transform="translate(389.42,221.99) scale(1,1.050)" class="sr" font-size="7.8">40.0%</text>
<text transform="translate(412.13,211.03) scale(1,1.050)" class="sg" font-size="7.8">86.2%</text>
<text transform="translate(412.13,221.99) scale(1,1.050)" class="sr" font-size="7.8">13.8%</text>
<text transform="translate(434.84,211.03) scale(1,1.050)" class="sg" font-size="7.8">24.1%</text>
<text transform="translate(434.84,221.99) scale(1,1.050)" class="sr" font-size="7.8">75.9%</text>
<text transform="translate(457.5,211.03) scale(1,1.050)" class="sgb" font-size="7.8">82.5%</text>
<text transform="translate(457.5,221.99) scale(1,1.050)" class="srb" font-size="7.8">17.5%</text>
<text x="366.65" y="18.2" class="ttl" font-size="9.95">Validation Confusion Matrix</text>
<text class="lab" font-size="9.84" transform="translate(248.75,122.5) rotate(-90) scale(1,1.001)" x="0" y="3.54">Output Class</text>
<text x="366.65" y="248.9" class="lab" font-size="9.85">Target Class</text>
<text x="259" y="37.44" class="tick" font-size="8.2">1</text>
<text x="259" y="59.81" class="tick" font-size="8.2">2</text>
<text x="259" y="82.19" class="tick" font-size="8.2">3</text>
<text x="259" y="104.56" class="tick" font-size="8.2">4</text>
<text x="259" y="126.94" class="tick" font-size="8.2">5</text>
<text x="259" y="149.31" class="tick" font-size="8.2">6</text>
<text x="259" y="171.69" class="tick" font-size="8.2">7</text>
<text x="259" y="194.06" class="tick" font-size="8.2">8</text>
<text class="xtick" font-size="7.7" transform="translate(278.36,233.2) rotate(-45)" x="0" y="2.77">1</text>
<text class="xtick" font-size="7.7" transform="translate(301.07,233.2) rotate(-45)" x="0" y="2.77">2</text>
<text class="xtick" font-size="7.7" transform="translate(323.78,233.2) rotate(-45)" x="0" y="2.77">3</text>
<text class="xtick" font-size="7.7" transform="translate(346.49,233.2) rotate(-45)" x="0" y="2.77">4</text>
<text class="xtick" font-size="7.7" transform="translate(369.21,233.2) rotate(-45)" x="0" y="2.77">5</text>
<text class="xtick" font-size="7.7" transform="translate(391.92,233.2) rotate(-45)" x="0" y="2.77">6</text>
<text class="xtick" font-size="7.7" transform="translate(414.63,233.2) rotate(-45)" x="0" y="2.77">7</text>
<text class="xtick" font-size="7.7" transform="translate(437.34,233.2) rotate(-45)" x="0" y="2.77">8</text>
<text x="367.8" y="272.2" class="cap" font-size="14">(<tspan font-weight="bold">b</tspan>)</text>
<text transform="translate(36.02,305.64) scale(1,1.124)" class="cnt" font-size="7.01">99</text>
<text transform="translate(36.02,316) scale(1,1.124)" class="pct" font-size="7.01">10.9%</text>
<text transform="translate(56.17,305.64) scale(1,1.124)" class="cnt" font-size="7.01">0</text>
<text transform="translate(56.17,316) scale(1,1.124)" class="pct" font-size="7.01">0.0%</text>
<text transform="translate(76.31,305.64) scale(1,1.124)" class="cnt" font-size="7.01">0</text>
<text transform="translate(76.31,316) scale(1,1.124)" class="pct" font-size="7.01">0.0%</text>
<text transform="translate(96.45,305.64) scale(1,1.124)" class="cnt" font-size="7.01">0</text>
<text transform="translate(96.45,316) scale(1,1.124)" class="pct" font-size="7.01">0.0%</text>
<text transform="translate(116.6,305.64) scale(1,1.124)" class="cnt" font-size="7.01">0</text>
<text transform="translate(116.6,316) scale(1,1.124)" class="pct" font-size="7.01">0.0%</text>
<text transform="translate(136.74,305.64) scale(1,1.124)" class="cnt" font-size="7.01">0</text>
<text transform="translate(136.74,316) scale(1,1.124)" class="pct" font-size="7.01">0.0%</text>
<text transform="translate(156.88,305.64) scale(1,1.124)" class="cnt" font-size="7.01">0</text>
<text transform="translate(156.88,316) scale(1,1.124)" class="pct" font-size="7.01">0.0%</text>
<text transform="translate(177.03,305.64) scale(1,1.124)" class="cnt" font-size="7.01">0</text>
<text transform="translate(177.03,316) scale(1,1.124)" class="pct" font-size="7.01">0.0%</text>
<text transform="translate(197.2,305.64) scale(1,1.167)" class="sg" font-size="6.92">100%</text>
<text transform="translate(197.2,316) scale(1,1.167)" class="sr" font-size="6.92">0.0%</text>
<text transform="translate(36.02,327.7) scale(1,1.124)" class="cnt" font-size="7.01">1</text>
<text transform="translate(36.02,338.07) scale(1,1.124)" class="pct" font-size="7.01">0.1%</text>
<text transform="translate(56.17,327.7) scale(1,1.124)" class="cnt" font-size="7.01">84</text>
<text transform="translate(56.17,338.07) scale(1,1.124)" class="pct" font-size="7.01">9.2%</text>
<text transform="translate(76.31,327.7) scale(1,1.124)" class="cnt" font-size="7.01">0</text>
<text transform="translate(76.31,338.07) scale(1,1.124)" class="pct" font-size="7.01">0.0%</text>
<text transform="translate(96.45,327.7) scale(1,1.124)" class="cnt" font-size="7.01">0</text>
<text transform="translate(96.45,338.07) scale(1,1.124)" class="pct" font-size="7.01">0.0%</text>
<text transform="translate(116.6,327.7) scale(1,1.124)" class="cnt" font-size="7.01">0</text>
<text transform="translate(116.6,338.07) scale(1,1.124)" class="pct" font-size="7.01">0.0%</text>
<text transform="translate(136.74,327.7) scale(1,1.124)" class="cnt" font-size="7.01">0</text>
<text transform="translate(136.74,338.07) scale(1,1.124)" class="pct" font-size="7.01">0.0%</text>
<text transform="translate(156.88,327.7) scale(1,1.124)" class="cnt" font-size="7.01">0</text>
<text transform="translate(156.88,338.07) scale(1,1.124)" class="pct" font-size="7.01">0.0%</text>
<text transform="translate(177.03,327.7) scale(1,1.124)" class="cnt" font-size="7.01">0</text>
<text transform="translate(177.03,338.07) scale(1,1.124)" class="pct" font-size="7.01">0.0%</text>
<text transform="translate(197.2,327.7) scale(1,1.167)" class="sg" font-size="6.92">98.8%</text>
<text transform="translate(197.2,338.07) scale(1,1.167)" class="sr" font-size="6.92">1.2%</text>
<text transform="translate(36.02,349.76) scale(1,1.124)" class="cnt" font-size="7.01">0</text>
<text transform="translate(36.02,360.13) scale(1,1.124)" class="pct" font-size="7.01">0.0%</text>
<text transform="translate(56.17,349.76) scale(1,1.124)" class="cnt" font-size="7.01">0</text>
<text transform="translate(56.17,360.13) scale(1,1.124)" class="pct" font-size="7.01">0.0%</text>
<text transform="translate(76.31,349.76) scale(1,1.124)" class="cnt" font-size="7.01">111</text>
<text transform="translate(76.31,360.13) scale(1,1.124)" class="pct" font-size="7.01">12.2%</text>
<text transform="translate(96.45,349.76) scale(1,1.124)" class="cnt" font-size="7.01">0</text>
<text transform="translate(96.45,360.13) scale(1,1.124)" class="pct" font-size="7.01">0.0%</text>
<text transform="translate(116.6,349.76) scale(1,1.124)" class="cnt" font-size="7.01">0</text>
<text transform="translate(116.6,360.13) scale(1,1.124)" class="pct" font-size="7.01">0.0%</text>
<text transform="translate(136.74,349.76) scale(1,1.124)" class="cnt" font-size="7.01">0</text>
<text transform="translate(136.74,360.13) scale(1,1.124)" class="pct" font-size="7.01">0.0%</text>
<text transform="translate(156.88,349.76) scale(1,1.124)" class="cnt" font-size="7.01">0</text>
<text transform="translate(156.88,360.13) scale(1,1.124)" class="pct" font-size="7.01">0.0%</text>
<text transform="translate(177.03,349.76) scale(1,1.124)" class="cnt" font-size="7.01">0</text>
<text transform="translate(177.03,360.13) scale(1,1.124)" class="pct" font-size="7.01">0.0%</text>
<text transform="translate(197.2,349.76) scale(1,1.167)" class="sg" font-size="6.92">100%</text>
<text transform="translate(197.2,360.13) scale(1,1.167)" class="sr" font-size="6.92">0.0%</text>
<text transform="translate(36.02,371.82) scale(1,1.124)" class="cnt" font-size="7.01">0</text>
<text transform="translate(36.02,382.19) scale(1,1.124)" class="pct" font-size="7.01">0.0%</text>
<text transform="translate(56.17,371.82) scale(1,1.124)" class="cnt" font-size="7.01">10</text>
<text transform="translate(56.17,382.19) scale(1,1.124)" class="pct" font-size="7.01">1.1%</text>
<text transform="translate(76.31,371.82) scale(1,1.124)" class="cnt" font-size="7.01">0</text>
<text transform="translate(76.31,382.19) scale(1,1.124)" class="pct" font-size="7.01">0.0%</text>
<text transform="translate(96.45,371.82) scale(1,1.124)" class="cnt" font-size="7.01">122</text>
<text transform="translate(96.45,382.19) scale(1,1.124)" class="pct" font-size="7.01">13.4%</text>
<text transform="translate(116.6,371.82) scale(1,1.124)" class="cnt" font-size="7.01">0</text>
<text transform="translate(116.6,382.19) scale(1,1.124)" class="pct" font-size="7.01">0.0%</text>
<text transform="translate(136.74,371.82) scale(1,1.124)" class="cnt" font-size="7.01">0</text>
<text transform="translate(136.74,382.19) scale(1,1.124)" class="pct" font-size="7.01">0.0%</text>
<text transform="translate(156.88,371.82) scale(1,1.124)" class="cnt" font-size="7.01">0</text>
<text transform="translate(156.88,382.19) scale(1,1.124)" class="pct" font-size="7.01">0.0%</text>
<text transform="translate(177.03,371.82) scale(1,1.124)" class="cnt" font-size="7.01">0</text>
<text transform="translate(177.03,382.19) scale(1,1.124)" class="pct" font-size="7.01">0.0%</text>
<text transform="translate(197.2,371.82) scale(1,1.167)" class="sg" font-size="6.92">92.4%</text>
<text transform="translate(197.2,382.19) scale(1,1.167)" class="sr" font-size="6.92">7.6%</text>
<text transform="translate(36.02,393.89) scale(1,1.124)" class="cnt" font-size="7.01">0</text>
<text transform="translate(36.02,404.25) scale(1,1.124)" class="pct" font-size="7.01">0.0%</text>
<text transform="translate(56.17,393.89) scale(1,1.124)" class="cnt" font-size="7.01">0</text>
<text transform="translate(56.17,404.25) scale(1,1.124)" class="pct" font-size="7.01">0.0%</text>
<text transform="translate(76.31,393.89) scale(1,1.124)" class="cnt" font-size="7.01">0</text>
<text transform="translate(76.31,404.25) scale(1,1.124)" class="pct" font-size="7.01">0.0%</text>
<text transform="translate(96.45,393.89) scale(1,1.124)" class="cnt" font-size="7.01">0</text>
<text transform="translate(96.45,404.25) scale(1,1.124)" class="pct" font-size="7.01">0.0%</text>
<text transform="translate(116.6,393.89) scale(1,1.124)" class="cnt" font-size="7.01">127</text>
<text transform="translate(116.6,404.25) scale(1,1.124)" class="pct" font-size="7.01">13.9%</text>
<text transform="translate(136.74,393.89) scale(1,1.124)" class="cnt" font-size="7.01">0</text>
<text transform="translate(136.74,404.25) scale(1,1.124)" class="pct" font-size="7.01">0.0%</text>
<text transform="translate(156.88,393.89) scale(1,1.124)" class="cnt" font-size="7.01">0</text>
<text transform="translate(156.88,404.25) scale(1,1.124)" class="pct" font-size="7.01">0.0%</text>
<text transform="translate(177.03,393.89) scale(1,1.124)" class="cnt" font-size="7.01">0</text>
<text transform="translate(177.03,404.25) scale(1,1.124)" class="pct" font-size="7.01">0.0%</text>
<text transform="translate(197.2,393.89) scale(1,1.167)" class="sg" font-size="6.92">100%</text>
<text transform="translate(197.2,404.25) scale(1,1.167)" class="sr" font-size="6.92">0.0%</text>
<text transform="translate(36.02,415.95) scale(1,1.124)" class="cnt" font-size="7.01">0</text>
<text transform="translate(36.02,426.32) scale(1,1.124)" class="pct" font-size="7.01">0.0%</text>
<text transform="translate(56.17,415.95) scale(1,1.124)" class="cnt" font-size="7.01">0</text>
<text transform="translate(56.17,426.32) scale(1,1.124)" class="pct" font-size="7.01">0.0%</text>
<text transform="translate(76.31,415.95) scale(1,1.124)" class="cnt" font-size="7.01">0</text>
<text transform="translate(76.31,426.32) scale(1,1.124)" class="pct" font-size="7.01">0.0%</text>
<text transform="translate(96.45,415.95) scale(1,1.124)" class="cnt" font-size="7.01">0</text>
<text transform="translate(96.45,426.32) scale(1,1.124)" class="pct" font-size="7.01">0.0%</text>
<text transform="translate(116.6,415.95) scale(1,1.124)" class="cnt" font-size="7.01">0</text>
<text transform="translate(116.6,426.32) scale(1,1.124)" class="pct" font-size="7.01">0.0%</text>
<text transform="translate(136.74,415.95) scale(1,1.124)" class="cnt" font-size="7.01">68</text>
<text transform="translate(136.74,426.32) scale(1,1.124)" class="pct" font-size="7.01">7.5%</text>
<text transform="translate(156.88,415.95) scale(1,1.124)" class="cnt" font-size="7.01">17</text>
<text transform="translate(156.88,426.32) scale(1,1.124)" class="pct" font-size="7.01">1.9%</text>
<text transform="translate(177.03,415.95) scale(1,1.124)" class="cnt" font-size="7.01">45</text>
<text transform="translate(177.03,426.32) scale(1,1.124)" class="pct" font-size="7.01">4.9%</text>
<text transform="translate(197.2,415.95) scale(1,1.167)" class="sg" font-size="6.92">52.3%</text>
<text transform="translate(197.2,426.32) scale(1,1.167)" class="sr" font-size="6.92">47.7%</text>
<text transform="translate(36.02,438.01) scale(1,1.124)" class="cnt" font-size="7.01">0</text>
<text transform="translate(36.02,448.38) scale(1,1.124)" class="pct" font-size="7.01">0.0%</text>
<text transform="translate(56.17,438.01) scale(1,1.124)" class="cnt" font-size="7.01">0</text>
<text transform="translate(56.17,448.38) scale(1,1.124)" class="pct" font-size="7.01">0.0%</text>
<text transform="translate(76.31,438.01) scale(1,1.124)" class="cnt" font-size="7.01">0</text>
<text transform="translate(76.31,448.38) scale(1,1.124)" class="pct" font-size="7.01">0.0%</text>
<text transform="translate(96.45,438.01) scale(1,1.124)" class="cnt" font-size="7.01">0</text>
<text transform="translate(96.45,448.38) scale(1,1.124)" class="pct" font-size="7.01">0.0%</text>
<text transform="translate(116.6,438.01) scale(1,1.124)" class="cnt" font-size="7.01">0</text>
<text transform="translate(116.6,448.38) scale(1,1.124)" class="pct" font-size="7.01">0.0%</text>
<text transform="translate(136.74,438.01) scale(1,1.124)" class="cnt" font-size="7.01">17</text>
<text transform="translate(136.74,448.38) scale(1,1.124)" class="pct" font-size="7.01">1.9%</text>
<text transform="translate(156.88,438.01) scale(1,1.124)" class="cnt" font-size="7.01">93</text>
<text transform="translate(156.88,448.38) scale(1,1.124)" class="pct" font-size="7.01">10.2%</text>
<text transform="translate(177.03,438.01) scale(1,1.124)" class="cnt" font-size="7.01">24</text>
<text transform="translate(177.03,448.38) scale(1,1.124)" class="pct" font-size="7.01">2.6%</text>
<text transform="translate(197.2,438.01) scale(1,1.167)" class="sg" font-size="6.92">69.4%</text>
<text transform="translate(197.2,448.38) scale(1,1.167)" class="sr" font-size="6.92">30.6%</text>
<text transform="translate(36.02,460.07) scale(1,1.124)" class="cnt" font-size="7.01">0</text>
<text transform="translate(36.02,470.44) scale(1,1.124)" class="pct" font-size="7.01">0.0%</text>
<text transform="translate(56.17,460.07) scale(1,1.124)" class="cnt" font-size="7.01">0</text>
<text transform="translate(56.17,470.44) scale(1,1.124)" class="pct" font-size="7.01">0.0%</text>
<text transform="translate(76.31,460.07) scale(1,1.124)" class="cnt" font-size="7.01">0</text>
<text transform="translate(76.31,470.44) scale(1,1.124)" class="pct" font-size="7.01">0.0%</text>
<text transform="translate(96.45,460.07) scale(1,1.124)" class="cnt" font-size="7.01">0</text>
<text transform="translate(96.45,470.44) scale(1,1.124)" class="pct" font-size="7.01">0.0%</text>
<text transform="translate(116.6,460.07) scale(1,1.124)" class="cnt" font-size="7.01">0</text>
<text transform="translate(116.6,470.44) scale(1,1.124)" class="pct" font-size="7.01">0.0%</text>
<text transform="translate(136.74,460.07) scale(1,1.124)" class="cnt" font-size="7.01">32</text>
<text transform="translate(136.74,470.44) scale(1,1.124)" class="pct" font-size="7.01">3.5%</text>
<text transform="translate(156.88,460.07) scale(1,1.124)" class="cnt" font-size="7.01">12</text>
<text transform="translate(156.88,470.44) scale(1,1.124)" class="pct" font-size="7.01">1.3%</text>
<text transform="translate(177.03,460.07) scale(1,1.124)" class="cnt" font-size="7.01">50</text>
<text transform="translate(177.03,470.44) scale(1,1.124)" class="pct" font-size="7.01">5.5%</text>
<text transform="translate(197.2,460.07) scale(1,1.167)" class="sg" font-size="6.92">53.2%</text>
<text transform="translate(197.2,470.44) scale(1,1.167)" class="sr" font-size="6.92">46.8%</text>
<text transform="translate(36.02,482.66) scale(1,1.167)" class="sg" font-size="6.92">99.0%</text>
<text transform="translate(36.02,493.77) scale(1,1.167)" class="sr" font-size="6.92">1.0%</text>
<text transform="translate(56.17,482.66) scale(1,1.167)" class="sg" font-size="6.92">89.4%</text>
<text transform="translate(56.17,493.77) scale(1,1.167)" class="sr" font-size="6.92">10.6%</text>
<text transform="translate(76.31,482.66) scale(1,1.167)" class="sg" font-size="6.92">100%</text>
<text transform="translate(76.31,493.77) scale(1,1.167)" class="sr" font-size="6.92">0.0%</text>
<text transform="translate(96.45,482.66) scale(1,1.167)" class="sg" font-size="6.92">100%</text>
<text transform="translate(96.45,493.77) scale(1,1.167)" class="sr" font-size="6.92">0.0%</text>
<text transform="translate(116.6,482.66) scale(1,1.167)" class="sg" font-size="6.92">100%</text>
<text transform="translate(116.6,493.77) scale(1,1.167)" class="sr" font-size="6.92">0.0%</text>
<text transform="translate(136.74,482.66) scale(1,1.167)" class="sg" font-size="6.92">58.1%</text>
<text transform="translate(136.74,493.77) scale(1,1.167)" class="sr" font-size="6.92">41.9%</text>
<text transform="translate(156.88,482.66) scale(1,1.167)" class="sg" font-size="6.92">76.2%</text>
<text transform="translate(156.88,493.77) scale(1,1.167)" class="sr" font-size="6.92">23.8%</text>
<text transform="translate(177.03,482.66) scale(1,1.167)" class="sg" font-size="6.92">42.0%</text>
<text transform="translate(177.03,493.77) scale(1,1.167)" class="sr" font-size="6.92">58.0%</text>
<text transform="translate(197.2,482.66) scale(1,1.167)" class="sgb" font-size="6.92">82.7%</text>
<text transform="translate(197.2,493.77) scale(1,1.167)" class="srb" font-size="6.92">17.3%</text>
<text transform="translate(116.62,292.7) scale(1,1.110)" class="ttl" font-size="8.83">Test Confusion Matrix</text>
<text class="lab" font-size="9.7" transform="translate(11.85,395.7) rotate(-90) scale(1,0.901)" x="0" y="3.49">Output Class</text>
<text transform="translate(116.62,520.2) scale(1,1.110)" class="lab" font-size="8.74">Target Class</text>
<text transform="translate(21.4,311.24) scale(1,1.110)" class="tick" font-size="7.27">1</text>
<text transform="translate(21.4,333.3) scale(1,1.110)" class="tick" font-size="7.27">2</text>
<text transform="translate(21.4,355.36) scale(1,1.110)" class="tick" font-size="7.27">3</text>
<text transform="translate(21.4,377.43) scale(1,1.110)" class="tick" font-size="7.27">4</text>
<text transform="translate(21.4,399.49) scale(1,1.110)" class="tick" font-size="7.27">5</text>
<text transform="translate(21.4,421.55) scale(1,1.110)" class="tick" font-size="7.27">6</text>
<text transform="translate(21.4,443.61) scale(1,1.110)" class="tick" font-size="7.27">7</text>
<text transform="translate(21.4,465.68) scale(1,1.110)" class="tick" font-size="7.27">8</text>
<text class="xtick" font-size="6.83" transform="translate(38.24,504.1) rotate(-45)" x="0" y="2.46">1</text>
<text class="xtick" font-size="6.83" transform="translate(58.38,504.1) rotate(-45)" x="0" y="2.46">2</text>
<text class="xtick" font-size="6.83" transform="translate(78.53,504.1) rotate(-45)" x="0" y="2.46">3</text>
<text class="xtick" font-size="6.83" transform="translate(98.67,504.1) rotate(-45)" x="0" y="2.46">4</text>
<text class="xtick" font-size="6.83" transform="translate(118.81,504.1) rotate(-45)" x="0" y="2.46">5</text>
<text class="xtick" font-size="6.83" transform="translate(138.96,504.1) rotate(-45)" x="0" y="2.46">6</text>
<text class="xtick" font-size="6.83" transform="translate(159.1,504.1) rotate(-45)" x="0" y="2.46">7</text>
<text class="xtick" font-size="6.83" transform="translate(179.25,504.1) rotate(-45)" x="0" y="2.46">8</text>
<text x="116.3" y="543.6" class="cap" font-size="12.4">(<tspan font-weight="bold">c</tspan>)</text>
<text x="279.7" y="309.36" class="cnt" font-size="7.8">560</text>
<text x="279.7" y="319.64" class="pct" font-size="7.8">12.3%</text>
<text x="302.1" y="309.36" class="cnt" font-size="7.8">0</text>
<text x="302.1" y="319.64" class="pct" font-size="7.8">0.0%</text>
<text x="324.5" y="309.36" class="cnt" font-size="7.8">0</text>
<text x="324.5" y="319.64" class="pct" font-size="7.8">0.0%</text>
<text x="346.9" y="309.36" class="cnt" font-size="7.8">0</text>
<text x="346.9" y="319.64" class="pct" font-size="7.8">0.0%</text>
<text x="369.3" y="309.36" class="cnt" font-size="7.8">0</text>
<text x="369.3" y="319.64" class="pct" font-size="7.8">0.0%</text>
<text x="391.7" y="309.36" class="cnt" font-size="7.8">0</text>
<text x="391.7" y="319.64" class="pct" font-size="7.8">0.0%</text>
<text x="414.1" y="309.36" class="cnt" font-size="7.8">0</text>
<text x="414.1" y="319.64" class="pct" font-size="7.8">0.0%</text>
<text x="436.5" y="309.36" class="cnt" font-size="7.8">0</text>
<text x="436.5" y="319.64" class="pct" font-size="7.8">0.0%</text>
<text transform="translate(458.95,309.36) scale(1,1.040)" class="sg" font-size="7.7">100%</text>
<text transform="translate(458.95,319.64) scale(1,1.040)" class="sr" font-size="7.7">0.0%</text>
<text x="279.7" y="331.23" class="cnt" font-size="7.8">9</text>
<text x="279.7" y="341.52" class="pct" font-size="7.8">0.2%</text>
<text x="302.1" y="331.23" class="cnt" font-size="7.8">539</text>
<text x="302.1" y="341.52" class="pct" font-size="7.8">11.8%</text>
<text x="324.5" y="331.23" class="cnt" font-size="7.8">0</text>
<text x="324.5" y="341.52" class="pct" font-size="7.8">0.0%</text>
<text x="346.9" y="331.23" class="cnt" font-size="7.8">0</text>
<text x="346.9" y="341.52" class="pct" font-size="7.8">0.0%</text>
<text x="369.3" y="331.23" class="cnt" font-size="7.8">0</text>
<text x="369.3" y="341.52" class="pct" font-size="7.8">0.0%</text>
<text x="391.7" y="331.23" class="cnt" font-size="7.8">0</text>
<text x="391.7" y="341.52" class="pct" font-size="7.8">0.0%</text>
<text x="414.1" y="331.23" class="cnt" font-size="7.8">0</text>
<text x="414.1" y="341.52" class="pct" font-size="7.8">0.0%</text>
<text x="436.5" y="331.23" class="cnt" font-size="7.8">0</text>
<text x="436.5" y="341.52" class="pct" font-size="7.8">0.0%</text>
<text transform="translate(458.95,331.23) scale(1,1.040)" class="sg" font-size="7.7">98.4%</text>
<text transform="translate(458.95,341.52) scale(1,1.040)" class="sr" font-size="7.7">1.6%</text>
<text x="279.7" y="353.11" class="cnt" font-size="7.8">0</text>
<text x="279.7" y="363.39" class="pct" font-size="7.8">0.0%</text>
<text x="302.1" y="353.11" class="cnt" font-size="7.8">0</text>
<text x="302.1" y="363.39" class="pct" font-size="7.8">0.0%</text>
<text x="324.5" y="353.11" class="cnt" font-size="7.8">570</text>
<text x="324.5" y="363.39" class="pct" font-size="7.8">12.5%</text>
<text x="346.9" y="353.11" class="cnt" font-size="7.8">0</text>
<text x="346.9" y="363.39" class="pct" font-size="7.8">0.0%</text>
<text x="369.3" y="353.11" class="cnt" font-size="7.8">0</text>
<text x="369.3" y="363.39" class="pct" font-size="7.8">0.0%</text>
<text x="391.7" y="353.11" class="cnt" font-size="7.8">0</text>
<text x="391.7" y="363.39" class="pct" font-size="7.8">0.0%</text>
<text x="414.1" y="353.11" class="cnt" font-size="7.8">0</text>
<text x="414.1" y="363.39" class="pct" font-size="7.8">0.0%</text>
<text x="436.5" y="353.11" class="cnt" font-size="7.8">0</text>
<text x="436.5" y="363.39" class="pct" font-size="7.8">0.0%</text>
<text transform="translate(458.95,353.11) scale(1,1.040)" class="sg" font-size="7.7">100%</text>
<text transform="translate(458.95,363.39) scale(1,1.040)" class="sr" font-size="7.7">0.0%</text>
<text x="279.7" y="374.98" class="cnt" font-size="7.8">0</text>
<text x="279.7" y="385.27" class="pct" font-size="7.8">0.0%</text>
<text x="302.1" y="374.98" class="cnt" font-size="7.8">30</text>
<text x="302.1" y="385.27" class="pct" font-size="7.8">0.7%</text>
<text x="324.5" y="374.98" class="cnt" font-size="7.8">0</text>
<text x="324.5" y="385.27" class="pct" font-size="7.8">0.0%</text>
<text x="346.9" y="374.98" class="cnt" font-size="7.8">569</text>
<text x="346.9" y="385.27" class="pct" font-size="7.8">12.5%</text>
<text x="369.3" y="374.98" class="cnt" font-size="7.8">0</text>
<text x="369.3" y="385.27" class="pct" font-size="7.8">0.0%</text>
<text x="391.7" y="374.98" class="cnt" font-size="7.8">0</text>
<text x="391.7" y="385.27" class="pct" font-size="7.8">0.0%</text>
<text x="414.1" y="374.98" class="cnt" font-size="7.8">0</text>
<text x="414.1" y="385.27" class="pct" font-size="7.8">0.0%</text>
<text x="436.5" y="374.98" class="cnt" font-size="7.8">0</text>
<text x="436.5" y="385.27" class="pct" font-size="7.8">0.0%</text>
<text transform="translate(458.95,374.98) scale(1,1.040)" class="sg" font-size="7.7">95.0%</text>
<text transform="translate(458.95,385.27) scale(1,1.040)" class="sr" font-size="7.7">5.0%</text>
<text x="279.7" y="396.86" class="cnt" font-size="7.8">1</text>
<text x="279.7" y="407.14" class="pct" font-size="7.8">0.0%</text>
<text x="302.1" y="396.86" class="cnt" font-size="7.8">1</text>
<text x="302.1" y="407.14" class="pct" font-size="7.8">0.0%</text>
<text x="324.5" y="396.86" class="cnt" font-size="7.8">0</text>
<text x="324.5" y="407.14" class="pct" font-size="7.8">0.0%</text>
<text x="346.9" y="396.86" class="cnt" font-size="7.8">1</text>
<text x="346.9" y="407.14" class="pct" font-size="7.8">0.0%</text>
<text x="369.3" y="396.86" class="cnt" font-size="7.8">569</text>
<text x="369.3" y="407.14" class="pct" font-size="7.8">12.5%</text>
<text x="391.7" y="396.86" class="cnt" font-size="7.8">1</text>
<text x="391.7" y="407.14" class="pct" font-size="7.8">0.0%</text>
<text x="414.1" y="396.86" class="cnt" font-size="7.8">0</text>
<text x="414.1" y="407.14" class="pct" font-size="7.8">0.0%</text>
<text x="436.5" y="396.86" class="cnt" font-size="7.8">0</text>
<text x="436.5" y="407.14" class="pct" font-size="7.8">0.0%</text>
<text transform="translate(458.95,396.86) scale(1,1.040)" class="sg" font-size="7.7">99.3%</text>
<text transform="translate(458.95,407.14) scale(1,1.040)" class="sr" font-size="7.7">0.7%</text>
<text x="279.7" y="418.73" class="cnt" font-size="7.8">0</text>
<text x="279.7" y="429.02" class="pct" font-size="7.8">0.0%</text>
<text x="302.1" y="418.73" class="cnt" font-size="7.8">0</text>
<text x="302.1" y="429.02" class="pct" font-size="7.8">0.0%</text>
<text x="324.5" y="418.73" class="cnt" font-size="7.8">0</text>
<text x="324.5" y="429.02" class="pct" font-size="7.8">0.0%</text>
<text x="346.9" y="418.73" class="cnt" font-size="7.8">0</text>
<text x="346.9" y="429.02" class="pct" font-size="7.8">0.0%</text>
<text x="369.3" y="418.73" class="cnt" font-size="7.8">0</text>
<text x="369.3" y="429.02" class="pct" font-size="7.8">0.0%</text>
<text x="391.7" y="418.73" class="cnt" font-size="7.8">317</text>
<text x="391.7" y="429.02" class="pct" font-size="7.8">7.0%</text>
<text x="414.1" y="418.73" class="cnt" font-size="7.8">51</text>
<text x="414.1" y="429.02" class="pct" font-size="7.8">1.1%</text>
<text x="436.5" y="418.73" class="cnt" font-size="7.8">241</text>
<text x="436.5" y="429.02" class="pct" font-size="7.8">5.3%</text>
<text transform="translate(458.95,418.73) scale(1,1.040)" class="sg" font-size="7.7">52.1%</text>
<text transform="translate(458.95,429.02) scale(1,1.040)" class="sr" font-size="7.7">47.9%</text>
<text x="279.7" y="440.61" class="cnt" font-size="7.8">0</text>
<text x="279.7" y="450.89" class="pct" font-size="7.8">0.0%</text>
<text x="302.1" y="440.61" class="cnt" font-size="7.8">0</text>
<text x="302.1" y="450.89" class="pct" font-size="7.8">0.0%</text>
<text x="324.5" y="440.61" class="cnt" font-size="7.8">0</text>
<text x="324.5" y="450.89" class="pct" font-size="7.8">0.0%</text>
<text x="346.9" y="440.61" class="cnt" font-size="7.8">0</text>
<text x="346.9" y="450.89" class="pct" font-size="7.8">0.0%</text>
<text x="369.3" y="440.61" class="cnt" font-size="7.8">0</text>
<text x="369.3" y="450.89" class="pct" font-size="7.8">0.0%</text>
<text x="391.7" y="440.61" class="cnt" font-size="7.8">73</text>
<text x="391.7" y="450.89" class="pct" font-size="7.8">1.6%</text>
<text x="414.1" y="440.61" class="cnt" font-size="7.8">461</text>
<text x="414.1" y="450.89" class="pct" font-size="7.8">10.1%</text>
<text x="436.5" y="440.61" class="cnt" font-size="7.8">122</text>
<text x="436.5" y="450.89" class="pct" font-size="7.8">2.7%</text>
<text transform="translate(458.95,440.61) scale(1,1.040)" class="sg" font-size="7.7">70.3%</text>
<text transform="translate(458.95,450.89) scale(1,1.040)" class="sr" font-size="7.7">29.7%</text>
<text x="279.7" y="462.48" class="cnt" font-size="7.8">0</text>
<text x="279.7" y="472.77" class="pct" font-size="7.8">0.0%</text>
<text x="302.1" y="462.48" class="cnt" font-size="7.8">0</text>
<text x="302.1" y="472.77" class="pct" font-size="7.8">0.0%</text>
<text x="324.5" y="462.48" class="cnt" font-size="7.8">0</text>
<text x="324.5" y="472.77" class="pct" font-size="7.8">0.0%</text>
<text x="346.9" y="462.48" class="cnt" font-size="7.8">0</text>
<text x="346.9" y="472.77" class="pct" font-size="7.8">0.0%</text>
<text x="369.3" y="462.48" class="cnt" font-size="7.8">0</text>
<text x="369.3" y="472.77" class="pct" font-size="7.8">0.0%</text>
<text x="391.7" y="462.48" class="cnt" font-size="7.8">180</text>
<text x="391.7" y="472.77" class="pct" font-size="7.8">3.9%</text>
<text x="414.1" y="462.48" class="cnt" font-size="7.8">58</text>
<text x="414.1" y="472.77" class="pct" font-size="7.8">1.3%</text>
<text x="436.5" y="462.48" class="cnt" font-size="7.8">207</text>
<text x="436.5" y="472.77" class="pct" font-size="7.8">4.5%</text>
<text transform="translate(458.95,462.48) scale(1,1.040)" class="sg" font-size="7.7">46.5%</text>
<text transform="translate(458.95,472.77) scale(1,1.040)" class="sr" font-size="7.7">53.5%</text>
<text transform="translate(279.7,484.87) scale(1,1.040)" class="sg" font-size="7.7">98.2%</text>
<text transform="translate(279.7,495.88) scale(1,1.040)" class="sr" font-size="7.7">1.8%</text>
<text transform="translate(302.1,484.87) scale(1,1.040)" class="sg" font-size="7.7">94.6%</text>
<text transform="translate(302.1,495.88) scale(1,1.040)" class="sr" font-size="7.7">5.4%</text>
<text transform="translate(324.5,484.87) scale(1,1.040)" class="sg" font-size="7.7">100%</text>
<text transform="translate(324.5,495.88) scale(1,1.040)" class="sr" font-size="7.7">0.0%</text>
<text transform="translate(346.9,484.87) scale(1,1.040)" class="sg" font-size="7.7">99.8%</text>
<text transform="translate(346.9,495.88) scale(1,1.040)" class="sr" font-size="7.7">0.2%</text>
<text transform="translate(369.3,484.87) scale(1,1.040)" class="sg" font-size="7.7">100%</text>
<text transform="translate(369.3,495.88) scale(1,1.040)" class="sr" font-size="7.7">0.0%</text>
<text transform="translate(391.7,484.87) scale(1,1.040)" class="sg" font-size="7.7">55.5%</text>
<text transform="translate(391.7,495.88) scale(1,1.040)" class="sr" font-size="7.7">44.5%</text>
<text transform="translate(414.1,484.87) scale(1,1.040)" class="sg" font-size="7.7">80.9%</text>
<text transform="translate(414.1,495.88) scale(1,1.040)" class="sr" font-size="7.7">19.1%</text>
<text transform="translate(436.5,484.87) scale(1,1.040)" class="sg" font-size="7.7">36.3%</text>
<text transform="translate(436.5,495.88) scale(1,1.040)" class="sr" font-size="7.7">63.7%</text>
<text transform="translate(458.95,484.87) scale(1,1.040)" class="sgb" font-size="7.7">83.2%</text>
<text transform="translate(458.95,495.88) scale(1,1.040)" class="srb" font-size="7.7">16.8%</text>
<text transform="translate(369.35,295.3) scale(1,0.989)" class="ttl" font-size="9.82">All Confusion Matrix</text>
<text class="lab" font-size="9.62" transform="translate(251.85,398) rotate(-90) scale(1,1.011)" x="0" y="3.46">Output Class</text>
<text transform="translate(369.35,522.3) scale(1,0.989)" class="lab" font-size="9.72">Target Class</text>
<text transform="translate(262.8,314.92) scale(1,0.989)" class="tick" font-size="8.09">1</text>
<text transform="translate(262.8,336.8) scale(1,0.989)" class="tick" font-size="8.09">2</text>
<text transform="translate(262.8,358.67) scale(1,0.989)" class="tick" font-size="8.09">3</text>
<text transform="translate(262.8,380.55) scale(1,0.989)" class="tick" font-size="8.09">4</text>
<text transform="translate(262.8,402.42) scale(1,0.989)" class="tick" font-size="8.09">5</text>
<text transform="translate(262.8,424.3) scale(1,0.989)" class="tick" font-size="8.09">6</text>
<text transform="translate(262.8,446.17) scale(1,0.989)" class="tick" font-size="8.09">7</text>
<text transform="translate(262.8,468.05) scale(1,0.989)" class="tick" font-size="8.09">8</text>
<text class="xtick" font-size="7.6" transform="translate(282.17,506.1) rotate(-45)" x="0" y="2.74">1</text>
<text class="xtick" font-size="7.6" transform="translate(304.57,506.1) rotate(-45)" x="0" y="2.74">2</text>
<text class="xtick" font-size="7.6" transform="translate(326.97,506.1) rotate(-45)" x="0" y="2.74">3</text>
<text class="xtick" font-size="7.6" transform="translate(349.37,506.1) rotate(-45)" x="0" y="2.74">4</text>
<text class="xtick" font-size="7.6" transform="translate(371.77,506.1) rotate(-45)" x="0" y="2.74">5</text>
<text class="xtick" font-size="7.6" transform="translate(394.17,506.1) rotate(-45)" x="0" y="2.74">6</text>
<text class="xtick" font-size="7.6" transform="translate(416.57,506.1) rotate(-45)" x="0" y="2.74">7</text>
<text class="xtick" font-size="7.6" transform="translate(438.97,506.1) rotate(-45)" x="0" y="2.74">8</text>
<text x="367.5" y="543.6" class="cap" font-size="12.6">(<tspan font-weight="bold">d</tspan>)</text>
</g></svg>
</body></html>
